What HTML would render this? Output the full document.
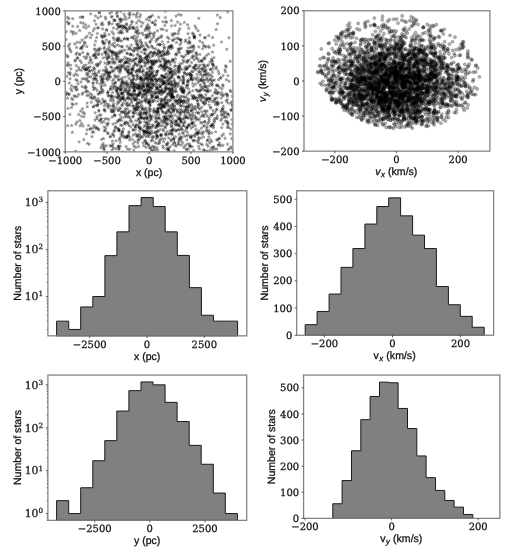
<!DOCTYPE html>
<html><head><meta charset="utf-8"><title>Star distributions</title>
<style>
html,body{margin:0;padding:0;background:#fff;}
svg{display:block;text-rendering:geometricPrecision}
.t{font-family:"DejaVu Serif","Liberation Serif",serif;font-size:10px;fill:#111;stroke:#111;stroke-width:.25px}
.l{font-family:"Liberation Sans","DejaVu Sans",sans-serif;font-size:10.55px;fill:#111;stroke:#111;stroke-width:.28px}
</style></head><body>
<svg width="509" height="550" viewBox="0 0 509 550">
<rect width="509" height="550" fill="#fff"/>
<g transform="translate(0,0.35)">
<marker id="ms" markerUnits="userSpaceOnUse" markerWidth="6" markerHeight="6" refX="0" refY="0" viewBox="-3 -3 6 6" overflow="visible"><path d="M0.00 -1.75L0.39 -0.54L1.66 -0.54L0.64 0.21L1.03 1.42L0.00 0.67L-1.03 1.42L-0.64 0.21L-1.66 -0.54L-0.39 -0.54Z" fill="#000" fill-opacity="0.34" stroke="#000" stroke-opacity="0.34" stroke-width="0.5"/></marker>
<marker id="mc" markerUnits="userSpaceOnUse" markerWidth="6" markerHeight="6" refX="0" refY="0" viewBox="-3 -3 6 6" overflow="visible"><circle r="1.6" fill="#000" fill-opacity="0.3" stroke="#000" stroke-opacity="0.3" stroke-width="0.6"/></marker>
<svg x="65.2" y="10.5" width="167.7" height="141" viewBox="65.2 10.5 167.7 141"><polyline points="86.4,133.6 212.6,60.6 112.4,140.8 141.1,101.2 149.7,34.1 118.5,96.1 89,62.5 183.7,100.3 170.2,68.5 198.7,107.9 117.6,11.7 131.3,95.8 150.4,32.4 190.3,74.4 94.2,48.8 215.3,104.3 139.2,93.9 195.6,108.9 77.1,121.7 145.8,28.5 174.3,106.4 149.4,101.4 189.7,117.6 192.2,146.5 108.2,103.9 96.5,75.6 86.9,95.1 178.7,14.1 188.6,124.6 122.3,50.2 95.5,40.9 165.3,87.5 167.9,142.2 147.1,68.3 212.9,68.3 148.9,83.3 150.1,90 159.6,140.5 216.5,117.8 156.1,84.6 156.6,60.6 173.6,110.7 166.3,88.1 178.1,143 178.4,72.1 182.3,69.1 115.9,86.1 167.3,54.4 78,83.4 165.8,116.5 94,87.6 133.8,77.9 157.8,108.2 76.2,65.2 113,143.6 185.6,69.5 99,48.1 183.8,111.7 88.1,91.5 110.6,76.8 101.8,36.1 178.3,38.6 103.2,90.6 144.7,53.1 229.4,148.4 114.9,68.7 171.4,20.2 142.7,114 120.3,108.8 68.9,18.2 191.7,71 126.4,67.9 153.3,37.2 103.3,57.7 214.4,121.8 148.1,60.7 175.2,71.8 195.1,140.3 201.3,80.3 167.9,102.7 150.3,87.2 136.4,43.4 118.1,147 107.9,61.5 170.1,71.9 141.8,94.3 146,136.2 203.2,97.1 140.3,58.7 66.2,31.4 147.4,117.4 190.1,65.4 162.7,79.1 133.1,55.1 148.6,79.6 171.7,107.7 189.9,51.4 221.5,109.9 157.4,70.6 122.6,28.7 115.1,46.6 152,55.9 207.6,139.9 167.4,80.7 155.7,149.6 165.3,17.2 154.9,24 178.9,141.5 100.5,91.6 133.3,116.2 99.3,93.5 145.8,107.6 141.4,59.2 81,81.7 166.5,62.9 124,88.9 205.9,100.6 116.8,40 172.5,144.2 121.6,136.2 211.8,85.1 190.3,145.6 161.5,68 86.6,56.5 163.7,50.5 182.8,80.5 181.5,48 197.9,58.8 112.4,80.5 128.4,135.8 155.4,93.7 105,42.8 111.8,71.2 170.8,46.3 156.9,52.6 121.1,98.1 119.4,45.6 205.9,46.7 150.7,16.4 149.4,26.9 197.2,54.4 211.4,147.6 213,110.1 172.3,74 150.9,86.2 161.7,98.6 218.9,138 167,83.9 183.2,82.7 151.9,150.3 217.6,139.8 171.1,139.2 188.7,100.8 98.8,110 146.2,49.7 145.7,93 102.6,98.9 194.5,35.5 163.8,106.2 125.5,83.1 163.9,91.9 210.3,78.7 163.4,55.6 107.9,92.6 127.1,46 118.9,130.1 187.8,80.8 175.1,25.1 137.2,74.3 227.6,11.5 166.5,122.3 196,56.3 171.8,71.3 121.8,125.2 226.3,66.4 95.1,127.1 97.1,100.9 133.1,87.1 119,130.7 127.1,31 125.1,100.1 155.8,78.4 169.8,93.8 78.7,114.2 113.5,100.8 204.2,64.8 96.7,37.2 104.8,33.1 167.3,50.6 113.5,27.8 162.5,111.4 111,109.3 141.2,88.9 231.8,138.4 135.6,94.1 131.7,94.3 98,93.7 156.8,87.6 134,75.7 193.7,123 208.7,35.2 182.9,56.6 190.5,136.4 178.2,68.3 114.3,84 110.5,50.5 161.9,80.7 205.7,102.4 108.9,119 178.2,49 162.3,41.6 100.7,16.1 165.6,127.3 105.4,70.1 154.1,61.3 117.8,40.2 188.8,98.6 151.6,78.5 135.5,98.8 162.2,125.3 176,82.5 211,125.4 192.4,116 126.7,24.5 219.7,142.8 80,60.3 184.5,72.8 192,107.8 198.6,105.1 178.9,124.8 92.3,131.9 140.7,121.5 145.8,37.5 185.2,41.1 192.5,109.7 129.1,125.3 105.5,71.2 103,69.9 159.1,37.3 123.3,102.6 207,90.7 76.2,103.5 91.5,70.3 129.3,98.7 148.6,29.9 147.2,36.9 147.2,125.3 169.9,100.5 102.4,85.1 164.7,118.1 163.6,69.6 122.2,46.3 143,85.4 127.1,97.9 216.9,108.9 85.3,37.6 73.1,33.8 135.5,127.2 121.4,20.6 133.9,89 187,66.4 76.6,70.6 113.5,88.8 142.8,58.6 96.8,118.2 170.6,107.7 168.7,147.9 119.9,61.5 70.1,78.5 228.4,127.3 175.4,121.2 173.1,70.1 156.6,81.7 152.9,101.5 192.3,123.2 152.5,15.1 123.6,19.1 186.6,149.8 156,40.9 117,59 110.7,66.6 208,89.1 118.3,80 172.2,96.6 218,103.6 181.3,128.4 173.6,74.3 118.3,128.3 94.6,96.6 118.3,110.2 138.4,114.2 170.8,112 201.2,79.3 172.3,116.1 114.4,20 115.1,20.1 208.2,98.1 109.2,57 169.4,133.8 155.6,89.5 177.5,116.3 188.5,105.5 143.2,69.9 150.1,108.8 164.5,60.5 92,136.3 118.9,129.4 77,52.7 153.5,70.5 188.1,33.3 112.6,61.9 120,50.8 199.1,94.6 131,79.5 77.7,75 105.2,73.6 103.7,102 105.3,85 185,66.9 156.6,71.6 83.3,23 127.9,104.9 99.8,92.1 96.5,57.5 82.5,108.5 138.8,61.5 180.3,112.8 194,67.1 135.2,83.6 178.4,118.3 178.6,144.5 163.7,44.6 166.6,134.8 199.9,54.1 130.8,126.6 112.9,70.1 109.5,72.3 193,71.4 152.4,46.7 101.4,80 196.2,27.9 116.7,90.6 132.1,22 108.6,74.1 171.6,133.1 77.6,26.2 121.1,32 154.2,146.5 95.4,105.1 156.7,39.1 112.4,145.6 100.9,147.5 135.9,147 152.6,63.6 177.7,111.9 149.6,101.4 159.1,66.4 68.1,62.4 196.6,112.2 139.6,127.4 224,116.9 156.7,125.5 119.8,59.8 216.7,84.8 136.1,109.2 87.9,54.1 220.6,77.4 103,79.6 196,53.2 205.5,66.7 98.3,101.7 172.1,33.8 159.7,51.5 173,96.8 204.8,86.1 158.4,59.4 114.9,115.6 148.7,102.5 225.5,120.7 97.9,98.4 157,111.2 107.2,72.9 75.8,123.8 137.2,57.8 147.4,28.6 158.7,16.9 226.3,100.7 104.9,118.7 97.2,90.1 65.4,54.2 82.9,52.1 178.4,129.6 173.7,96.9 186.4,148.5 135.2,126.2 195.5,65.1 179.7,28.5 98.2,128.6 221.1,94.1 163.2,112.2 187.5,81.9 212.5,123.9 107.5,132.6 149.3,124.1 114.7,114.6 109,21.8 165.7,133.4 169.2,77.9 218.3,144.8 152.2,87.4 113.9,111 148.2,145 109.6,63 133.3,26.9 206.4,130.2 198.8,46.6 173.7,139 141.6,67 161.1,103.2 138.7,85.8 156.6,143.3 148.4,99.3 177.9,123.4 137,65.3 139.6,89 100.2,83.4 145.1,65.7 122,132.3 139.6,133.6 141.4,129 205.1,90.3 162.7,121 168.4,48.1 164.2,106.2 121.9,105.1 111.8,67.2 192.7,90.4 136.7,105.7 70.1,49.5 163.7,120.4 118.6,32.4 150.1,105.5 127.5,53.4 134.1,94.5 145.1,112.3 94.7,68.5 152.4,146 185.9,109.1 71.6,85.4 90.2,128.5 141.6,77.1 193.4,140.6 168.4,80.2 70.9,51.3 155.8,115.6 191.2,119.2 208.3,64.3 93.3,106.2 138,140.1 180.2,67.7 69.3,82.7 179.8,119.1 166.6,61.3 133.4,65.4 114,107 128.5,95.9 93.6,131.7 227.2,94.6 101.2,103 133.2,129.5 122.2,77.5 133.8,38.3 157.6,135.4 117.7,101.8 142.2,105.9 202.8,68.3 139.7,82.7 117.2,55.2 163.9,76.5 86.2,87.4 99.5,115 112.6,105.8 164.1,117.7 179,125.1 160.4,139 170.5,116.8 189.2,59.8 160.8,107.2 110.2,136.6 116.1,54.7 210.3,90.6 219.5,138.5 76,79.2 227.2,99.4 168.4,75.2 149.7,57.9 154.2,62.1 103.2,42.8 144.3,78.6 167.5,61.8 213.1,113.9 196.9,134.2 137.6,102.7 211.6,60.2 170.5,112.8 90,66.5 97.7,63.5 104.2,109.2 86,79.3 152.3,83.3 128.2,112.4 154.5,78.9 185.8,54.7 162.7,88.9 218,85.2 147,118.8 207.3,140.2 131.3,37.1 166.8,117.3 151.3,60.7 212.5,83.7 121.7,40.6 160.2,103.6 162.8,51.2 134.2,97.4 168.8,109.2 81.7,123.1 130.8,98.4 172.6,91.8 193,126.2 191.4,104.2 180.5,105.7 135.3,125.9 209.6,98.3 139.9,68.2 107.6,48.6 125.4,69.1 190.8,47.1 199.1,71.6 189.5,73.3 128.2,93 220.9,111.2 126.8,136.4 195.2,106.3 151.6,95.5 145.2,131.7 151.5,72.1 220.2,17.2 219.7,87.2 195.2,117.7 183.9,118.7 173.8,138.8 131.8,86.6 122.8,151.5 154.8,52.3 74.1,86.9 141.4,137 149.8,53.2 104.2,48.3 125.4,110.3 185.2,130.6 141.7,44.1 156.1,111.4 201.1,98.6 123.7,27.1 98.8,129.5 172.5,134.8 67.3,93.5 183.4,100.6 137.8,47.3 133.1,105.5 143.9,81 177.4,101.1 190.7,73 135.5,40.9 227.5,143.9 212.7,113.7 155.6,132.1 150.2,109.9 104.9,62.8 124,26.2 176.1,130.4 83.8,44.7 158.9,92 209.1,117.5 137.6,33.2 183.7,125.8 152,61.5 201.4,127.9 101.4,76.6 139.6,86.5 171.6,71.5 123.4,86.4 114.3,61.1 136.8,96.7 140.4,61.3 122.3,79.8 168.6,118.5 191.1,77.8 188.2,81.1 185.1,145.2 209.2,119.7 89.1,143.9 147.8,85.1 162.1,58.2 77.4,57.4 111.4,16.8 165.6,63.7 204.3,125.1 121,67.4 127.8,71.1 170.7,90.7 180.8,136.8 150.6,74.4 120.7,32.7 90.6,93.3 88.8,95.1 186.2,106.3 166.4,119 189.1,66.2 198.2,142.4 216.8,102.8 150.6,51.8 172,97 155.5,75.1 110.8,86.5 146.2,143.2 211.5,115.1 158.4,104.8 204.7,79.7 144,108.7 172.2,92.2 134,60 119.9,40.2 141,86.9 160.9,135.3 153.6,85.6 147.6,45.9 198,132.8 182.9,122.8 134.9,28.4 194.5,36.9 140.3,85.6 146.7,129 214.8,148.8 128.4,97.7 84.5,113.4 162,75.2 143.9,133.2 149.1,27.7 144.1,126.5 156.2,121.1 175.9,101 148.9,88.7 158.5,117.6 157,79.4 165.2,81 140.4,41.3 173.6,109.5 158.3,53.8 180.1,44.3 144.6,131.6 157.2,136.3 158.7,84.4 208.9,121.7 103.7,82.4 188,111.1 142.6,136.5 217.4,115.5 150,76.8 99.1,70.6 172.8,35.3 132.8,68.5 118.7,53.2 180.4,39.3 122.2,82 172.2,89 208.6,75.5 88.7,81 137.2,30.6 176.4,121.2 231.9,119.3 197.5,106.5 132.5,95.6 222.5,108.4 137,103.7 171.6,44.9 102.4,92.3 210,150.1 164.1,67.1 127.1,135.9 99.3,12.2 171.2,99.7 186.3,117.2 179.8,118.5 150.8,116.1 66.6,92.1 184.9,121.2 165.1,53.5 187.9,117.7 118.1,97.9 95,119.8 167.6,79.6 167.8,83 85.1,69.4 137.7,53.7 174.5,65.9 158,125.8 216.4,68.4 111.3,95.3 112.3,116.7 144.7,117.9 86.4,90.2 200.7,72.6 156,61.8 162.5,54.3 177.6,94.7 120.6,85.3 181.1,14.8 197.1,131.9 194.4,98.3 180.9,105.5 142.3,82.4 146.5,77.6 182.2,90.9 127.4,108.7 207.5,123.2 150.1,66.6 118.1,121.1 160.2,52.4 145.4,77.6 179.9,39.3 168.5,47 170.7,81.3 116.6,107.8 221.8,102.3 127,38.2 208.7,73.4 133.7,86.1 160.3,122.1 112.2,58.1 127,102.3 122.6,32.2 177.1,96.5 175,38.5 147.5,76.4 140.9,111.4 139.6,92 157.4,54 108.8,95.6 150.6,116.8 146.5,88.3 127.9,62.2 126.5,23.3 222.7,84.4 124.4,38.4 172.6,96.2 217.5,23.4 154.2,110.6 200.9,86.2 86.4,69.2 95.5,53.1 134.7,90.7 142.9,109.6 148.8,136.4 232.6,105.1 151.5,39.2 165.3,62.9 110.7,88.7 168.3,115.3 90.3,128.8 219,73.4 128.9,72.8 179.5,65.7 91.9,34.6 218.6,79.4 182,96.3 156.5,127 77.2,89.4 116.4,56 227.4,122.7 123.9,66.5 181.2,88.7 165.8,102.9 176.4,91.2 129.7,89 89.4,32.8 213.4,127.4 196,117.2 135.7,63.6 182.6,105.2 184.9,117.1 183.2,133.3 178.3,86 194.8,115.3 157.1,121 212.7,101.4 161.5,90 112,31.5 127.6,113.3 189.5,106.8 149.3,107.7 204.5,57.3 213.9,100.2 230.8,109.3 167,131.1 163.5,80.8 123.3,96.8 178.2,33.5 142.1,60.7 98,17.6 187,139.6 65.7,94.3 143,22.8 90.2,60 162.1,106.9 180.5,23.9 197.9,118.6 216.9,85.4 183.4,125.2 165.9,103.3 191.7,114.8 180.2,100.8 221.2,97.7 179.4,52.3 159.7,92.5 100.4,48.5 169.2,87.9 225.5,65.5 125.5,90.7 76,89.4 150.3,127 130.2,48.4 154,147.5 126.1,103.7 157.8,96.4 106,54.1 227.5,126.8 143.4,130.3 178.4,76.2 146.9,122.7 142.4,83.8 133,82.8 177.2,111.1 94.2,54.7 111.3,111.3 127.4,92 208.8,85.5 139.7,55.8 161,100.5 204.3,71.3 118.9,129.4 202.6,70.3 112.5,51.1 224,112.5 227.9,75.3 163.7,105.5 134.6,108.4 193.7,150.2 227.9,113.6 210.7,125.9 191.3,110.5 115.3,96.5 201,94.5 143.4,90.7 144.2,117.7 135.4,58.6 179,139.4 195.4,125.5 195.5,83.9 139.6,48.1 210.6,139.6 124.7,137 146.9,132.4 101.3,35.3 168.5,93.2 150.9,62.1 200,89.9 133,59.6 150,42 127.3,58.8 109,34.1 195.2,133.7 160.1,44.6 121.4,93.6 117.7,16.5 158.4,50.2 109.7,72.8 147.9,63 148.6,75.8 71.6,98.1 88.6,125.2 140,138 155.9,96.9 98.6,72.1 178.6,50.9 218.1,93 212.4,95.4 146.5,122.3 163,29.1 68.2,65.1 157.3,112 198.3,97.8 160.5,81.8 143.1,142.5 183.8,90 191.9,57.3 108.6,57 171.7,61.4 208.8,136.9 214.2,120.2 203.6,131.7 191.7,51.8 207.6,91.1 192.4,118.4 193.3,96.8 212.7,63.4 160.6,61.1 179.4,137.8 166.2,119 160,80.1 127.9,39 141.1,103.4 104,100.9 147.5,62.1 189.1,92.6 185.8,39.7 191.8,79 151.4,45.7 135.1,141.3 176.2,124.9 121.5,65.7 123.4,93 191.6,79.3 158.3,123.7 169.3,53.3 162.3,138.6 191.2,127.9 128.5,49.1 148.5,56.5 177.6,21.7 118.4,145.6 155.3,82.8 148.1,90.8 161.9,106.1 73.9,75.2 152.7,79.5 182.6,118.6 108.2,133.2 95.5,15.8 158.1,123.5 141.7,79.4 187.4,131.9 113.5,147.7 110.7,100.4 172.5,84.8 189.7,146.1 200.2,84.5 155.5,20.4 169.2,46.1 119.6,96.1 218.7,144.7 210.4,69 81.6,116 198.1,30.4 122.5,66.2 179.8,77.5 176.9,109.8 140.6,92.4 109.3,41.2 101,86.4 183.7,77.6 113.9,19.9 187.9,42.9 138.5,94.2 129.7,63.8 196.6,58.2 109.8,13 148.2,60.9 155.7,92 187.3,143.8 121.6,120.1 150.6,133.3 188.4,135 197.8,68.3 83.1,92.4 132.5,74.9 164.3,98.9 181.9,91.1 215.3,98.6 179,70.5 75.5,86.9 188.3,47.7 117.1,24 184.9,100.6 158.1,111.4 131.9,60.9 135,62.6 113,123.7 167.1,77.1 171.3,140.5 182.3,87.2 223.2,110.7 152.5,72.6 91.3,102 121.3,117.2 202.6,42.3 147,55.5 200.2,64.8 163.6,141.2 164.2,47.5 148.9,120.7 193.5,46.2 101.3,79 145,125 149.3,101.4 190.8,137.1 122.7,83.6 146,72.7 77.3,80.4 162.5,92.9 83.2,112 227.9,122 89.5,70.9 141.6,42.3 147.4,59.2 76.6,47.2 147.8,123.1 123.1,98.4 86.9,78.3 165.8,112.4 164.5,65.5 106,52.4 82.2,86.3 122.4,104.5 169.7,78.9 181.9,136.9 120.4,30.5 139,118.8 181,120.5 206.5,55.1 127.4,148.9 161.4,55.4 109.7,76 175.3,90.1 154.5,132.3 146.4,19.2 230.7,91.2 141.5,61 103.7,43.5 164.9,54.1 164.8,82.6 101.3,118.8 127.4,105.4 114,39 151.2,149.1 213.6,125.7 128.6,60.8 120.8,99.2 127.3,97.8 166.4,143.9 165.1,90.3 147.1,117.7 211.6,141.1 128,71.3 204,67 167.9,148.5 113.8,131 160.1,125.4 88.2,73.8 145.3,94.8 188.7,88.6 161.2,36.9 127,58.5 150,115.2 78.6,94.1 181.3,101.7 181.3,55.6 117.9,40.2 185.8,68.8 132.9,27.9 131.5,100.4 166.3,112 137.9,142.7 179.8,66.2 183.8,147.2 190.5,79.1 123.6,81.4 217.5,104.7 171.5,93.7 202.4,77.4 118.3,109.8 165.8,113.5 138,87.9 115.1,82.2 82.5,46.4 147.6,79.5 147.9,24.1 202,68.7 79.1,141.6 129,131.3 187.2,68.2 198.4,112.2 135,107.7 128.8,85.9 171.4,126.2 232.5,109 171.9,125.9 121.1,88.9 120.5,79.1 76.6,86.9 157.4,30.4 138.4,88.5 164.3,82.7 166.6,30.2 205.6,111.1 157.2,97.1 136.6,70.8 187.5,107.4 205,121.4 142.1,32.6 136.3,14.5 168.3,99.7 130.9,84.6 138.4,48.1 179.2,133.9 181.3,144.7 177.5,37.8 118.7,67.4 86,58.2 159.1,117.6 135.9,112.7 163.5,130.7 193.6,95.3 144.2,134.5 143.4,74.3 114.7,130.4 174.1,78.9 190.1,43 172.3,93.9 80.8,22.2 164.9,25.1 67.6,125.3 220.7,77.7 160.9,91.2 118.2,56.8 196.7,79.3 203.7,82.8 146.5,27 149.2,131.1 157.7,136.8 145.3,97.8 218.4,102.9 102.8,24.6 130.1,14.7 170.4,95.7 134.6,88.7 146.3,100.4 128.5,90.4 226.8,121.3 207.2,110.8 152.2,73.2 152.6,80.6 146.3,98.4 195.2,69.4 129.6,93.8 156.6,72.4 92.7,98.3 114.2,42.6 112.6,92.3 120.6,124.8 160.9,119.3 189.7,91.7 137.7,136.6 155.7,97.1 138.5,109.8 215.1,112 165.3,68.4 74.8,43.7 224,114 170.4,92.2 125.9,121.8 131.4,83.9 146.5,143.1 88.7,26 137.4,87.7 187.8,126.4 215.4,102 193.4,33.8 156.9,87.4 163.9,83 157.6,109.9 157.4,130.8 106.2,145.5 203.9,103.4 165.2,99.7 173.1,111.7 171.2,68.7 140.6,78.2 152.2,137.9 92.1,95 167.3,52.1 74.2,95.4 146.8,74.1 140.3,71.7 126.9,83.1 135.9,107.1 102.7,77.5 127.5,84.5 210.5,79.4 125.8,85.3 66.1,39.3 90.9,76.5 206,74.5 212.7,124.2 160.1,85.9 172.7,129.5 172.3,105.7 149.6,134.3 189.3,37.8 107.3,125 134.2,47.7 75,60.7 107.6,92.6 175.5,58.4 171.3,88.8 171.5,121.4 191.2,74.8 151.9,132.6 182.6,142.2 94.2,78.8 144.9,53.2 104.9,51.6 130.6,94.1 210.1,61.6 156.6,131.6 134.2,90.3 176.5,42.3 184.6,115.2 157.8,149.9 139.8,93 161.3,101.1 157.7,87.9 138.4,20.2 225.7,111.8 172.5,40 174,97.9 212.2,76.4 102.7,74.1 211.7,132.6 143.8,49.6 221.7,127.3 178.4,68.9 133.7,50.4 168.2,123.6 171.6,84.2 86.5,69.4 139.8,61.7 122.2,92.7 120.9,18.8 130.3,120.7 93.1,83.3 167.2,60.8 193,112.7 94.7,76.4 198.5,113 148,127 121.2,89.4 138.6,146.2 119.1,148.3 175.8,145.9 154.8,100.1 210.4,107.8 130,110.6 67.2,21.4 108.3,53.7 170.7,94.5 85.6,24.4 119.5,19.1 179.7,69 90.4,97.3 194.1,67 170.4,46 127.2,66 152.5,95.4 131.2,73 135.9,71.7 155.3,24.6 150.2,87.8 108.5,75.1 102.9,41.4 147.2,85.2 210.5,69.3 200.7,122.4 120.4,100.5 139.6,69.1 96.5,128.2 183.9,92 145.8,42.8 140.7,127.9 116.5,90.2 126.4,116.5 162,110.1 196.4,97.7 199.5,132.9 114.8,52.3 186.7,127.4 159.4,142.3 212.7,149.7 141.4,87.2 169.3,88.7 125,123.6 159.1,78.6 152.3,136.4 147,92.5 107.6,79.8 182.7,91.2 131.7,72.8 214.9,98.5 102.4,81.5 173.9,128.5 175.6,124.5 174.4,142.2 76,33 201.8,111.6 161.2,65.2 177.6,84 157.4,95.8 211.7,81 221.9,135.5 67.5,17 118.2,88.3 146.8,86.3 223.2,85.7 181.1,39.7 164.9,138.3 144.6,48.8 107.5,105.7 159,143.2 191.6,46.4 145.2,99.6 136.3,135.3 143.2,70.8 215.8,92.4 168.5,106 123.3,59.3 95.8,88.1 135.7,31.2 112.2,44.2 135.2,86.2 218.5,92.1 187.3,60.3 165.6,96.8 173.8,72.6 101.6,88.3 145.3,140.3 161.5,135.2 158.3,89.4 180.2,138.4 168.4,150 186.6,117.3 110.2,89 109.2,49.8 112.9,59.1 137.2,76.8 118.8,94.8 126.3,137.1 123.5,128.5 120.9,87.4 172.6,129.8 151.1,79.5 187.2,68.2 209.3,132.4 194,59.2 156.3,133.9 197.2,100.4 80.4,48.1 196.2,52.2 187.4,99.7 168.9,38.1 92.6,127.9 217,118.3 123.3,82.9 183.9,96.1 68.4,72.5 124.5,99.2 118.3,37.8 123.6,64.2 153,99.7 170.5,64.6 226,93.3 137.3,40.9 125.2,16.4 135.4,129.8 70,74.2 82.9,16.9 101.6,122.4 128.3,116.3 187.8,73.5 205.2,74.3 137.2,27 171.8,45.9 174.8,85.7 143.7,130.5 165,119.5 126.8,81 180.3,79.9 143.9,83.3 156.2,54.8 166.2,123.9 161.1,108.5 120.9,134.1 151.1,94 127.8,38.6 129.5,26.6 149.3,71 121,86 175.1,114.8 172.8,103.8 112.2,149.4 171.4,115.2 109.3,42 187.9,84.5 183,60 153.6,52.9 195.7,68.7 201.9,95.9 174.8,84.9 68.4,23.5 160.2,104.5 163.4,147.7 191.6,62.3 108,72.8 186.8,50.7 170.4,120.1 96,78.6 113.5,103.6 206.7,144 192.5,33 149.9,74.8 134.3,86.8 80,42 201,89.4 147.1,36.2 164.6,77.1 69.7,43.7 167.4,36.9 142,107.9 119.1,38.2 101.6,139.1 163.1,128.9 136.2,32.3 137.6,135.8 139.7,76.4 123.1,95.5 124.6,62.8 154.5,32.4 89.2,70.4 102,145.1 145.4,109.4 160.4,87 205.7,71.7 172.5,109.2 116,140.5 87.2,102.8 100.9,114.6 79.1,69.4 108,91.3 152.1,67.1 134,84 194.2,108.3 194.9,136.1 193,139.8 165.4,77.3 129.2,103.7 174.1,33.3 141.5,51.8 143.7,145.5 172.1,76.4 102.3,22.5 77.3,96.3 168.2,41.7 205.2,37.1 87.9,81.3 113.1,111.3 228.2,149.5 105.9,56.5 138.2,106.5 114.9,54.4 90.6,37.3 141.8,79.4 137.9,64.5 157.5,44.3 165.4,134.3 185.6,73.5 217.1,97.6 149.5,20.2 143.5,94.9 153.6,48.1 147.1,34.7 107.2,58.7 129,66.5 187.6,61.2 105.4,130.2 191,110.2 88.4,68 181.6,111.2 180.6,119.9 143.4,46 152.1,88.2 142.4,97.2 231.3,110.3 132.8,27.7 170.7,48.4 204.7,83.2 146.4,112.3 200.8,143.4 117.9,120.5 117,28.7 95.7,99.6 209.4,47.1 93.4,78.7 164.7,102 173,59.2 130.3,54 217.4,101.5 202.7,74.9 207,98.6 202.7,86.9 85.8,64.7 104.3,150 155.2,121.8 67.8,56.6 155.7,48.5 197.8,103.6 171.5,89.3 153.8,64.2 155.9,92.6 146.8,73.7 230.8,128.7 153.3,125.3 150.6,66.5 132.6,37 147.3,85 129.3,116.8 112,96.4 95.5,55.2 158.4,112 136.5,104.1 138.1,44.5 82.4,16.7 115.3,76.5 207.5,79.2 171.7,129.7 147.5,90.8 174.3,105.5 83.8,65.5 91.2,59.7 207.3,151 104.5,105.4 150.2,83.2 121.5,81.7 213.4,64.8 79.7,30.2 198.8,66.3 209.3,101.1 226.4,79.4 230.9,146.5 132.9,75.7 106.7,69 195.5,97.7 140.8,112.9 154,35.1 105.7,18.6 71.4,107.3 120,114.6 157.2,125 138.2,102.1 145.9,101.8 111.5,145.8 202.3,89 144.2,90.3 120.5,19 204.5,89.5 125.8,88.3 161.8,91.4 170.6,72 200,34.7 211,74.7 112.1,55.1 136.3,38.7 143.4,87.2 152.8,22.3 160.7,90.4 72,103.2 230.7,103 188,109.2 155.6,79.7 96,24 150.8,117.8 151.4,79.3 144.5,112.6 158.4,130.9 171.9,131.1 105.3,100.8 77.7,57.9 169.2,91.6 141.2,25.9 147.1,117.8 113,98.8 187.9,52.7 180.8,89.3 157.2,88 179,48.4 191.3,77.7 136.2,79.6 157.1,74.3 150.4,147.3 128.8,69.4 232,101.4 165.8,21.5 84.1,56.6 173.6,123.2 163,145.8 186.2,115.6 216.7,93.4 160.1,129.3 198.7,139 210.7,83.4 138.5,107.7 179.9,102.5 67.9,108.1 172.5,94.9 102.1,53.9 81.5,62.3 203.6,45.3 193.2,79.3 122.7,98.2 208,145.9 153.8,84.5 131.9,21.1 69.3,93.4 153.4,150.1 115.4,126.1 187.9,112.5 199.3,119.5 108.2,95.3 176.6,103.4 145.4,78.7 228.9,114.9 117.1,92.4 133.4,97.6 147,112.6 186.4,85.4 106.1,103.1 214.4,118.6 158.2,80 126.6,70.3 100.2,120.6 166.7,148.7 147,59.7 147.7,127.6 137,84.8 142.4,96.2 133.3,79.5 84.1,116.6 137.7,78.2 97.7,104.1 149,68.3 157,80.2 169.3,72.9 138.9,127.1 147.1,77.5 175.7,65.6 186.5,126.8 192.8,105.9 142.2,71.8 187,74.7 204.6,121.2 85.1,69.1 151.2,140.6 206.7,127.9 144.8,49.3 145.9,147 85.7,86 105.1,110.8 214.4,79.7 70.5,64.8 180.9,86.4 118.4,70.4 137,84.1 146.8,56.5 167.5,105 175.5,130.6 199.4,148.7 73.3,31.7 118.2,92.9 184.4,22.1 94.3,28.2 70.1,72.4 206.9,98 137.5,94.1 175.2,69.3 143.3,85.7 140.4,56.9 110.7,95.7 120.5,90.2 163.8,82.9 99.5,100.7 120,89 161.6,78.4 207.3,115.8 170.4,105.1 125.7,62.2 117.2,44.5 162,104.3 156.6,61.2 128.9,14 127.2,137.3 221.4,114.2 167.6,88.2 137.6,36.3 133.8,99.2 125.5,114 83.8,139.2 225,116.4 174.1,150.3 197.6,77.3 139.7,47.4 173.8,138.1 70.9,68.5 171.9,81.3 128.4,83.5 146.6,142.2 172.5,59.4 86.8,72.7 178.5,83 180.3,98.6 169.1,82.6 122.8,97.9 152,68 87.1,129.5 171.9,86.4 135.8,120.3 153.5,75.6 164.9,98.4 97.4,33.1 154,136.4 168.1,51.1 152.7,85 108.6,55.5 164.7,77 134,146 187.4,85.1 123.6,112.2 136.9,98.5 145.9,83.5 189.7,50.8 156.3,138.2 92.7,73.7 221.7,118.5 92,62.6 143.8,79.7 113.2,37.2 187.7,24.4 174.8,61.9 169.8,71.9 203.5,125.9 116.2,67.5 142.3,117.8 196.3,119.7 156,117.4 186.6,87.4 172.9,118.9 146.4,56.4 133.3,111.9 137.1,75.2 109.1,22.8 165.8,89.8 185.8,101.9 125.3,108.5 82.7,67.5 207.8,91 150.5,67.4 145.1,62.4 149.7,92.7 67.4,97.9 186.5,106.9 117.2,15.4 152.1,101.2 147.5,130.6 106.4,50.9 93.1,86.1 144.3,61.5 210.6,98.9 120.8,26 123.4,111.6 155.8,111 124.4,38.6 212.5,37.2 172.9,90 161.7,75.4 102.6,28.7 137.6,54.8 180.8,126.8 140.4,114.5 85.3,42.7 152.7,96 144.8,100.5 130.1,94.5 193,121.6 206,86 120.3,141.9 124.2,136.4 192.7,98.4 110.8,98.3 196.2,89.4 185.4,110.4 182.9,76.5 183.8,102.6 150.6,61.4 202.2,122.4 171.1,97.5 153.1,91.7 215.6,131.6 225,69.4 125.5,61.6 194.2,36.9 157.9,108.9 140.2,65.4 126.3,19 112.5,109.1 198.1,82.1 106.1,78.5 185.5,112.6 131.4,44.8 218.3,70.9 228.9,80.9 208.9,133.6 87.4,143.1 127.6,94 136.2,48.5 157.6,101.1 183.7,91.7 139.9,114.2 155,141.9 94.4,97.3 156.9,113.7 149.4,84.5 158.2,50.3 184.1,80.1 136.6,16.7 171.5,25.6 177.1,119.9 147.2,132.5 174.7,100.9 159.8,78.2 184.6,106.8 168.3,70.3 148.3,55.6 176.1,15.7 125.4,82.9 222.8,123.7 110.9,51.3 138,69.5 199.2,71.3 201.9,132.2 225.5,71.6 194,36.2 136.5,22.8 178.8,103.4 112.1,16.1 166.2,67.6 186.6,97.1 199.9,40.8 133.5,66.9 200,108.7 99.4,63.5 111.7,11.6 139.4,62.1 212.6,71.9 183.2,88.1 146.2,75.3 178.7,125.5 81.4,69.9 188.2,106.3 221.5,41.6 140.6,56.2 97,82.6 187.3,94.1 172.1,75.8 207.4,131.2 87.1,36 204.8,86.2 163,105.9 116.9,97 135.9,48.2 147,95.5 170.5,77.8 116.9,67.6 116.2,88.1 154.9,75.8 180,63.4 199,130.3 68.8,94.5 151.6,52.2 166.8,144.9 157.9,38.7 104.9,52.2 188.9,41.3 146.9,83.2 117.6,67.4 155.6,127.5 160.2,44.4 165.2,121.7 133,124.3 153.8,75.6 120.3,21.7 203.3,115.1 167.8,94.6 150.8,70.5 146.8,72.2 207,87.2 193,56.1 140.3,39.6 94.7,44.7 164.6,91.2 201.7,106.9 148,81.7 164.9,116.2 170.1,116.1 159.5,90.5 168.5,149.8 139,71.1 122.1,25.3 80.7,110.9 159.1,104.6 135.2,110.4 98.9,50.4 87.7,53.2 168.9,60.9 149.2,132.8 100.6,61.5 160,86.4 202,80.7 225,138 200.8,137.8 164.2,53.2 184.2,61.2 150.2,16.7 136.2,124.2 117.4,52.4 149.7,104.1 188.2,79.6 145.3,93.1 223,108.4 103.8,147.8 121.3,61.3 163.2,66 129.5,47.2 102,89.8 116.1,57.9 180.2,96 180,117.9 184.5,122.9 181.1,42 132.8,116.3 167.1,102.7 97,80.5 71.2,31.2 128.3,75.1 70.9,88.4 148.3,85.3 162.8,83.7 110,145.3 132.1,69.1 131.8,102.3 105.7,67 116.5,12.9 142.2,89 145,57.6 138.6,85.3 116.7,76.7 212.2,63.7 121.7,51.8 207.2,99.8 197.6,100.5 84.7,87.4 93.7,67.3 151.1,68.4 106.4,39.8 79.9,120.3 95.2,112.4 203.8,79.9 101.1,118.8 144.6,90.6 157,147.3 135.6,86.7 150,99.7 121,26.2 114.4,114.6 149.1,74 118.9,149.1 129.9,73.3 129.9,12.2 103.1,143.2 209,130.2 214.4,92.3 106.7,118.5 162.6,81.3 137.9,30 191.3,135.5 183.1,92.3 100.3,76.1 148.4,53.9 140.2,78.6 147.9,92.1 183.3,79 139.4,70.4 202.8,114.7 147.6,135.1 188.7,28 213,80.3 208.3,45.9 118.9,146.2 87.3,106.5 112.3,52.7 140.9,116.5 119,24.1 135.6,99.8 141.7,45.9 122.8,134.5 171.8,121.7 189.6,115.3 86.2,27.7 182.1,63.1 137.7,124.9 167.6,66.9 145.9,131.1 72.7,26 135.7,100 96.2,51.1 120.6,64.9 208.1,80.9 161.1,28.8 221.7,92.1 152.5,83.8 210.8,106.9 166.6,73.2 160.5,65.3 129.9,136.9 107.3,71 102.6,40.9 172.6,47.4 167.2,93.7 206.7,77.7 116.9,90.4 128.8,112 81.5,47 189.6,125.5 168.8,133.5 207,73 144.7,131.1 151.5,118.7 198.5,146.1 170,130.6 132,49.6 97.2,105.6 209.6,98 118.1,94.9 119.8,52.4 188.5,148.9 131.9,82.5 127.5,122.3 145.5,57.6 213.7,146.5 158.9,56.7 117.3,103.9 129,77.9 164.3,63.2 136.7,108.4 142.3,100.9 98.3,49.5 95.8,49.1 159.6,61 104.3,75.3 175.3,33.5 180.1,129.5 196.7,132.6 99.5,12.5 93.5,106.6 138.7,139.4 178.1,77.2 176.5,54.7 228.9,37.4 217.4,14.8 205.7,113.6 164.9,107.2 193.3,85.8 139.7,122.6 133.3,82.9 198.4,91.1 75.4,59.7 220.7,145.5 131.8,121.3 191,137.1 163.6,104.2 109.3,43.8 181.5,100.9 204.6,46 141,80.3 163.4,116.1 127.9,72.3 204.7,37.6 152.2,97.3 197.9,133.1 124.9,49.8 162.7,104.5 114.3,109.5 121.8,46.5 209.7,142.7 148.3,102.3 152.9,33.8 191.7,95.2 118.6,26.8 120.3,146 138.4,120.3 75.5,150.9 175.4,121 181.3,121.6 107.1,77.2 165,105.8 96.8,127.1 204,116.1 144.9,140.5 125.6,27.6 133.3,105.9 148.9,101.9 202.4,134 173.4,96.4 119.7,72.5 114.5,86.5 106.9,123.5 193.3,55.6 178.3,100.1 152.5,140.1 127.9,135.1 149.2,132.6 172.5,84 192.9,50.3 204.1,97.3 144.4,75.5 188.3,53.5 97.4,27.6 164.9,69.9 211,114.5 151.1,73.6 72.7,18.4 169.2,83.6 143.8,112.8 183.2,75.8 204.4,110.6 133,112.2 135.1,64.1 121.2,111.7 106.4,29.5 163.4,122.4 118.5,78.9 139.8,112.6 137.4,12.5 124.2,25.9 181.3,100.7 131,24.7 148.8,144.2 190.2,74.7 145.8,113.7 84.1,78.3 130.2,105.1 130.1,60 230.3,133.6 161.6,35.5 220.7,120.1 119.5,139.5 174.4,80.8 149.7,111.5 143.3,34.4 223,95.4 178.7,30.8 165.5,67.3 197,74 189.7,41.6 161,64.4 216.7,139.6 193.4,135.3 158.8,98.3 120.9,11.1 155.9,97.2 196.3,64.6 101.9,82.1 77.2,42 175.8,73.8 80.1,16.9 142.1,108.4 140.4,135.8 154.1,93.6 159.1,93.2 176,84.8 146.5,44.8 112.5,96.1 209,104.7 187.6,51.5 179.9,115.2 149.5,36.6 172.8,104 147.1,25.9 86.8,46.2 198.2,104 129.9,28 232.3,123.7 112.2,51.9 158.3,118.1 150.1,41.2 84,67.5 147.3,78.5 79.5,54.3 216.3,109.6 164.3,82.9 182.5,129.3 161.7,99.4 80.2,125.4 180.4,122 150.6,90.6 222.1,114.9 94.6,20.4 93.1,30.6 159.2,114.6 227.8,102.7 151.3,97.6 139.8,16.8 122.2,131.1 136.4,109.6 205.3,99.1 154.6,60.1 86.5,68 119.1,101.9 152.4,60.7 82.2,93.9 128.8,28.5 71.9,90.4 150.4,119.9 139.3,99.6 119.1,61.3 150.3,81.5 108.3,76.3 202.3,144.5 173.2,40 98.8,53.5 75.9,53.9 188.8,124.3 140.9,117.9 78.8,67.1 80,53.8 114.9,127.9 108.9,78.5 179.6,109.2 177.6,129.6 166.6,88.3 135.5,133.5 144.4,90.5 160.7,51.4 124.2,116.9 149.9,78.6 138.1,134.7 174.5,142.2 200.3,68.6 126.4,90 181.7,109.3 137.3,87.5 139.7,122.5 171.6,95 167.9,119.5 212.7,146.9 203.4,64.5 128.8,132.9 182.6,132.1 90.1,57.1 145,30 122,93.1 106.7,71.8 205,58.2 113.6,105.3 98.9,110.8 166.1,85.2 201.5,95.4 149,90.2 180,48.6 163,66.4 149.3,87.2 152.3,63.5 193.1,67.6 97.9,104.5 143.5,93.7 130.9,81.2 180,100.1 139.3,102.7 158.1,108.4 137.2,43.8 171.2,77 205,69.9 167.8,110.2 149.1,33.7 130.5,118.5 145.9,58.8 129.7,149 199,95.8 103.7,121.5 126.1,146.2 170,68.4 169.3,88.6 165.5,74.3 133.9,84.9 163.2,83.5 86.7,74.6 82.2,78.6 93.5,69.9 133.8,150 127.9,123.5 140.5,116.3 164.6,47.5 159.4,43.9 128.2,92.8 178.2,67 216.1,29.2 164.1,65.9 117.2,24.1 216.8,148.8 154.2,52 105.7,128 148.3,86.4 167.8,67 73,104.5 159.7,52.7 184,56.7 149.2,75.4 175.8,100.5 163.4,100.6 115.4,62.8 188.9,51.8 119.6,138 140.6,78 120.1,69.8 184.7,135.9 132.5,139.1 132.2,93.6 141.3,77.6 201,116.2 171.5,95.6 152.3,127 72.8,99.1 134.5,35.8 198.6,137.2 170.4,83.6 205.9,151.1 138.9,125.9 194.6,37.7 95.8,78.7 113.8,45.7 198,140.7 84.2,41.9 143.8,118.5 91.7,97.6 95.1,72.5 126.9,52.8 127.7,87.1 140.8,21.6 156.4,86.6 67.5,55.6 157.4,125.1 223.4,133.8 207.1,126.1 158.6,123.4 227.3,94.3 134.6,90.1 183.7,111.4 184.1,72.2 138.5,118.5 130.3,86.9 145.5,89.2 133.2,70.1 117,38.5 107.4,63.9 213.4,65.7 193.9,48 153.5,53.5 165.2,59.1 206,69.6 177.2,100 165.5,87 133.1,129.7 192.7,83 112.9,86.5 175.5,54 202.6,48.4 198.8,17.9 145.3,63.7 153.4,110.2 211.7,125.2 169.6,84.5 156.8,135.3 124.9,56.9 129.7,139.7 103.1,78.7 171.3,123.5 113.5,33.4 150.1,104 88.7,76.4 213.9,57.2 190,145.6 104.1,126.8 179.6,98.4 139.9,128.1 161.3,85 197.2,90.4 228.2,124.2 212.4,51.8 189.6,104.5 203.5,149.4 94.6,73.8 139.3,32.9 227.4,96.1 95.3,57.5 118.4,65.7 109.8,105.4 163.1,91.7 169.7,151.2 143.5,85.4 200.4,74.7 124.3,91.1 118.4,75.9 149.5,147.6 165.4,10.9 104.3,47 131.8,68.3 112.6,83.6 121.4,59.4 150,127 164.8,126.6 118.6,87.4 154.3,63.1 82.9,125.7 135.1,99.3 195.8,129 120.4,68.5 137.8,50.6 189.5,143.6 169,110 144.1,131.2 105.4,16.7 162.8,21.4 171,73.9 116.8,127.6 181.1,139.9 148.4,71.7 213.6,44.9 121.7,97.2 152.3,22.3 146.6,132.1 205.9,94.5 109.3,46.9 191.9,122.8 200.4,96.9 157.9,70.8 119,98.6 113.3,134.4 230.2,90.1 183.2,89.6 94.3,55.1 208.6,53.8 94,125.4 133.7,109 203.1,102.2 124,13.9 184.2,90.2 138.8,95.1 97.9,65 160.9,134.4 232.3,95.8 223.6,94.6 104.3,130.5 165.7,65 174.8,91.2 160.5,55.5 126.2,114.9 157.5,91.9 192.2,75.4 223.1,75.2 177.9,102.7 152.3,81.1 129.5,90.7 137,95.4 226.7,117.1 183.4,83 75.6,73.7 69.9,114.1 182.9,102.3 180.8,113.4 203.3,101.7 160.8,108.2 121.3,92.9 72.3,132 109,24.1 173.5,87.4 215.4,89.2 66.8,76 85.9,91.6 166.6,21.8 133.1,134.8 168.5,111.7 152.6,115.9 125,68.2 168.8,137.8 147.3,110.1 83.6,26.8 140.1,106 119.3,119.3 139.5,91.8 169.7,62.5 180.9,88.5 204.8,103.9 176,87.4 175.3,83.6 154.1,108.3 195,77.8 170.1,146.5 67,64.7 119.8,119.5 139,87.5 133.8,113.3 129.8,58.4 179.2,118.1 98.6,27.5 115.8,122.6 104.4,35.9 149.3,128.4 108.4,122.9 168.9,60.8 125.2,76.8 216.5,90.6 149.9,77.9 204.3,150.1 133.5,14.1 110,61.3 176.6,123.8 125.2,112.2 200.4,79.3 153.3,76.9 125,122.2 130.5,53.9 173.3,60.3 198.8,80.4 113.5,62.8 95.9,64.4 96.5,74.4 173.7,108.9 127.2,30.5 133.1,79.4 195.3,65.4 179.8,111.9 90.7,13.6 112.1,23.6 167.5,52.9 176.7,53.1 161.3,94.3 222,88.4 187.6,102.9 112.1,111.2 126.3,61.9 133.1,91.8 115.6,82.3 223,144.9 152.9,55.3 166.6,96.4 135.4,58.7 137.6,45.8 104,145.4 119.9,107.4 153.9,112.4 151.8,91.8 143.7,86.3 128.2,69.5 98.2,54.4 163.3,76.4 131.1,72.2 174.8,82.4 152.5,124.7 129.2,17.4 193.5,45.3 134.1,50.7 185.7,109.8 145.9,90.4 178.6,65.9 108.3,107.2 125.7,27.8 230.2,61 68.4,45.5 171.7,133.3 163.6,58.5 211.6,58.6 164.6,60.9 102.4,37.2 175.6,108.7 69.2,23 201.3,60.4 146,34.9 115.8,53 178.8,76.7 71.6,125.2 232.1,148 117.4,88.2 223.3,105.9 159.1,107.7 93.2,55.1 192.8,97.6 148.1,89.7 120.8,70.4 191,75.9 139.7,130.6 115.9,148.5 140.5,46.6 113.8,78.9 148.7,47.1 202.3,61.2 113.9,136 186.8,128.2 133.2,143.2 104.4,109.8 93,82.3 227.4,113.8 103.7,35.7 232.4,105.1 138.2,94.9 141.2,117.1 139.5,59.3 101.1,24 198.9,61.2 186.6,135.6 184.7,96.9 203.2,58.9 69.3,47.9 167,124.5 120,26.4 108.6,62.5 110,72.1 189.7,113.4 152.1,76.5 126.4,61.9 121.3,84 124.4,123.8 136.8,70.6 106.7,29.9 148.4,17.3 177.5,70.9 126.5,28.4 216.2,66.8 113.6,71 151.7,130.4 161.9,75.7 112.4,133.7 167.4,100.6 131.2,54.2 203.5,136.8 186.9,62.1 139.8,84.9 175.5,136.3 204.3,74.7 191.6,123.2 141.9,66.2 122.7,131.2 114.8,74.9 199.6,91.1 99.3,120 170,91 226.8,48.9 75.1,96.1 167.5,143.6 103.5,138.2 144.7,121.5 175.5,144.6 103.8,148 88,67.3 131.6,69.7 160.8,134.3 132.1,81.2 105.3,35.7 183.3,82.7 97.4,65.6 82.2,39.7 155.7,118.4 146.5,115.4 121.8,111.5 97,116.3 163.8,82.2 118.5,26.4 113.2,52.5 195,25.7 81.6,48.2 194.9,96.4 107.2,58 149.5,114.3 137.7,106.6 165.8,103.1 140.5,14.5 201,100.3 93.7,89.3 134.6,93.9 207.5,65.5 179.5,71.6 152.2,64.7 147.2,126.8 201,60.4 110.3,136.2" fill="none" stroke="none" marker-start="url(#ms)" marker-mid="url(#ms)" marker-end="url(#ms)"/></svg>
<rect x="65.2" y="10.5" width="167.7" height="141" fill="none" stroke="#808080" stroke-width="1.25"/>
<line x1="65.2" y1="151.5" x2="65.2" y2="153.6" stroke="#3a3a3a" stroke-width="0.8"/>
<text x="65.2" y="163.2" text-anchor="middle" class="t">−1000</text>
<line x1="107.1" y1="151.5" x2="107.1" y2="153.6" stroke="#3a3a3a" stroke-width="0.8"/>
<text x="107.1" y="163.2" text-anchor="middle" class="t">−500</text>
<line x1="149.1" y1="151.5" x2="149.1" y2="153.6" stroke="#3a3a3a" stroke-width="0.8"/>
<text x="149.1" y="163.2" text-anchor="middle" class="t">0</text>
<line x1="191" y1="151.5" x2="191" y2="153.6" stroke="#3a3a3a" stroke-width="0.8"/>
<text x="191" y="163.2" text-anchor="middle" class="t">500</text>
<line x1="232.9" y1="151.5" x2="232.9" y2="153.6" stroke="#3a3a3a" stroke-width="0.8"/>
<text x="232.9" y="163.2" text-anchor="middle" class="t">1000</text>
<line x1="63.1" y1="151.5" x2="65.2" y2="151.5" stroke="#3a3a3a" stroke-width="0.8"/>
<text x="60.8" y="155.2" text-anchor="end" class="t">−1000</text>
<line x1="63.1" y1="116.2" x2="65.2" y2="116.2" stroke="#3a3a3a" stroke-width="0.8"/>
<text x="60.8" y="119.9" text-anchor="end" class="t">−500</text>
<line x1="63.1" y1="81" x2="65.2" y2="81" stroke="#3a3a3a" stroke-width="0.8"/>
<text x="60.8" y="84.7" text-anchor="end" class="t">0</text>
<line x1="63.1" y1="45.8" x2="65.2" y2="45.8" stroke="#3a3a3a" stroke-width="0.8"/>
<text x="60.8" y="49.4" text-anchor="end" class="t">500</text>
<line x1="63.1" y1="10.5" x2="65.2" y2="10.5" stroke="#3a3a3a" stroke-width="0.8"/>
<text x="60.8" y="14.2" text-anchor="end" class="t">1000</text>
<text x="149.1" y="175.5" text-anchor="middle" class="l">x (pc)</text>
<text transform="translate(22,80.8) rotate(-90)" text-anchor="middle" class="l">y (pc)</text>
<polyline points="410.4,99.8 418.8,112.8 403.4,116.3 403.4,100.1 404,96.4 430.2,101.7 442.6,64.9 395.5,78.5 434,71.9 368.1,77.8 366.1,84.9 379.8,82 420.2,81 373.1,56.3 382,91.8 410.4,75.6 371.8,84.6 475.8,65.6 426.7,54.7 420.1,111.7 402.9,83 387.9,110.1 366.1,76.5 402.3,109.5 358.7,80.9 406.1,74.9 341.2,102.9 385,73.8 384.3,58.6 383.5,25.9 380,84 390.4,87.6 382.4,68.8 361.4,107.5 403.1,79.5 388.2,83 410.6,64.8 340.3,94.4 405.1,83.5 390.7,89.3 387.6,106.4 376.6,65.7 357.4,85.7 438.6,111.2 394.4,95.1 373.9,93.2 417.2,60.1 350.5,98 450.6,100.9 363.8,83.9 434.4,109.6 441.3,116.5 439.7,61.2 381.3,75.8 403,101.7 357.4,68.9 416.6,78.3 376.9,95 372.6,75.4 425.7,95.8 462.1,76.8 425.6,80 363,106.9 430.3,62.4 418.4,90.1 383.5,76.3 422,52.3 459.2,67.3 418.5,87.3 351.9,74.2 389.4,30.7 417.3,110.2 368.2,56.6 392.3,90.1 403.2,53.9 420.1,100.7 392.7,79.8 419,72.3 320.3,58.5 395.8,109.8 410.2,82.6 376.3,62.6 398.6,119.7 363.3,104.5 399.2,48.5 353.9,74 406.4,76.6 361.6,104.2 369.3,70.9 338,58.9 341.6,93.8 428.3,46.3 409.3,100.1 403.5,95 419.7,111.4 348.1,77.8 375.7,98.7 402.6,112.3 396.5,45.8 400.1,102.6 403.1,61.3 410.4,109.3 417.2,98.1 369.3,85.6 401.4,47.9 380.9,97.4 433.7,94.6 415.8,56.4 428.6,78.1 387.8,80.1 343.4,96.2 436.2,93.7 384.1,48.4 394.3,70.5 413.7,77.4 407.6,108 395.4,63.2 411.6,90.8 380.1,95.6 455.2,104.3 394.6,56.1 381.5,95 379.8,90.9 403.9,78.2 433.1,61.6 395.5,111.1 402.6,106.5 435.1,61.5 365.3,106 417.7,82.5 432.4,66.4 345,64.4 420,86.9 395.7,66.8 390.7,86.6 433.8,25.8 448.2,78.7 454.9,36.8 391.6,108.1 416.2,48.6 347.8,25.1 370.7,62.8 417.1,97.6 356.6,78.9 353.9,97.6 412.1,75.6 401.2,50 376.5,96.2 380.8,98.2 351.4,65.8 398.5,74.8 443.4,92.1 455.5,69.6 400.1,93.8 355,76.6 443.4,104.8 401.2,75.4 388.2,55.1 396.7,76.6 414.3,63.3 383.3,53.9 419,58.6 398.7,102 381.5,90.2 379,74.4 437.6,117.5 415.3,42.9 422.1,40.1 445.4,84 351.2,53.1 382.8,79.3 395,62.2 392.7,89.6 389.1,73.6 358,58.4 451.7,97.3 356.5,78.2 422.5,87.8 439.9,57.5 402.2,15.5 372.4,80 399.1,63.1 400.9,54.7 381.5,104.8 378.2,86.6 329.7,91.4 346,82.6 364,57 374.8,85.9 349.7,92.7 422.9,92.2 353.9,104.4 375.9,89.7 347.3,43.3 406.9,75.7 392,45.9 370.8,86.9 411.5,73.3 430.8,42.9 376.5,84.6 359.1,98.7 360.6,95 403.2,87.6 443.8,57 382.3,70.6 473.4,71.8 395.3,83.6 381.1,41.2 354.8,69.8 411.1,46.4 403.9,84.6 429.6,104.1 430.2,93.6 376.2,90.2 392.7,96.2 396.4,100.6 405.6,100.5 347.4,104.6 367,89.9 373.8,81.3 381.9,63.8 441.4,30.2 393.1,68.1 393.2,84.1 408.2,117.5 394.9,65 372.3,39.5 361.6,119.5 378.1,40.2 353.4,94.7 366.9,83.9 417.1,109.7 350.4,57.6 434.7,108.2 328.5,58.6 405.9,75.7 397.4,101.3 368.1,63.9 396.8,90.9 448.8,111.6 326.2,75.2 410.5,97 396.1,48.1 402.2,102.7 395.8,82.1 390.9,82.3 387.7,96.6 452.5,81.9 419,46.5 378,68.2 389.6,114.6 418,100.9 381.5,78.8 455.4,96 453,85.2 402.8,80.2 415.7,120.5 467.3,97.4 433.6,87.6 431.5,71.9 371.7,86.6 375.7,99.5 440.2,103 388.4,99.6 451.9,82.3 393.9,77.9 412.3,56.4 432.9,95.8 386.2,96.5 402.2,83.6 377.2,54.1 460.1,91.2 383,99.2 424.6,68.6 378.4,55.9 411.2,85.4 444.2,45.7 386.3,82.5 417.7,67.9 430.6,28.2 373.8,105.3 398.7,110.1 331.4,77.9 404,109.7 351,72.3 410.2,87.9 433.7,115 361.7,93.8 331.5,61.7 389.3,90.7 384.6,94.5 399.1,81.2 343.8,96.8 406.1,88.8 448.4,74.4 402.4,76.9 342.4,80.4 416.7,94.9 366.7,95.6 431.6,46.5 417.7,62.2 377.1,35.8 403.2,88.7 373,88.7 372.1,50 398.5,118.7 373.9,101.7 435.5,67.7 403,102 390.5,45.8 418.7,93.9 365.8,45.9 395.1,77.4 445.4,71.8 422.9,87.8 386.6,75.6 340.2,79.2 389.2,62.8 380.9,98.5 378.6,88.3 386.7,93.5 349.8,67.9 401.8,65.3 357.9,67.2 417.9,52.4 436.2,92.3 399,89.4 371,108 404.1,91.6 345.2,85.3 377.4,65.2 370.6,64.4 381.2,69 367.9,76.1 418.8,77.9 422,72.8 428,109.2 368.3,99.3 420.1,97.7 450.7,86.7 389.1,70.1 420.8,85.6 416.3,120.2 425.1,100.5 385.2,79.3 423.7,59.4 424.6,69 431.2,79.5 403,44.3 349.4,54.1 382.7,56.1 366,94.4 346.7,87.8 436.1,86.8 390.7,86.8 371.4,71.3 431,67.6 454.7,75.6 405.8,81.3 440.9,65.8 384.6,101.6 425,32.3 412.4,105.6 392.1,59.2 364.5,72.3 401.3,46.5 362.8,90.2 409.8,45.4 378.2,103.1 335,77.8 402.4,111.6 428.1,84 412.2,78.6 388.2,80.5 385.5,46.1 369.9,92.9 417,94.7 385.6,72.8 374.7,86.5 410.9,60.4 372.8,100.3 391.4,67.4 375.3,62.3 438.2,57.5 370.5,73.3 400.8,66.1 355.7,81.7 430.5,35.6 349.2,112.2 409.4,122 390.4,91.8 414.1,49.7 357,101.1 335.4,90 424,71.2 424.2,99.3 375.4,104.8 375,66.2 385.9,79.2 349.7,74 394.3,46.9 410.3,48.7 375.4,70.7 401.1,112 380.1,85.1 383.7,74 367.6,63.2 394.1,114.4 371.5,49.3 371.8,47.5 457.2,78.9 448.9,67.7 457.7,76.3 344.4,72.3 395.5,93.9 413.6,65.4 409.5,80 363.2,93.7 417.9,75.5 351.4,60.7 358.2,56.6 356.7,99.6 391.5,31.1 427.6,86.8 380.4,78.3 380.9,77.8 382.7,44.3 354.8,67.7 391.8,93.4 414.8,104.2 426.8,62.2 392,73 344.3,110.1 418.7,79.1 341,34.4 422.7,120.3 410.1,73.3 388,111.5 370.1,105.4 403,80.8 456.2,112.3 410.2,83.7 417.9,35.1 438.1,100.7 458.2,67.8 343.7,98.9 403.1,58.8 385.4,69.9 404.2,82.9 433.7,112.7 420.9,76.3 351.5,100 364.5,52.1 407.9,82.3 379.9,82.4 371.5,66.9 395.8,82 378,84.6 374.6,83 431.8,116.4 443.3,68 400.6,75.6 427.4,90.1 434.3,76.8 371.7,101.6 409.1,54 396.6,108.5 355.8,76.8 435.9,75.1 360.4,73.1 408.9,71 400.3,90.3 400.5,47.3 428.1,110.4 451.6,78.8 375.8,115.6 433.6,75.3 360.9,76.9 428.7,64.3 410.5,94.2 436.3,66.6 405.3,92.6 386,80.7 457.5,89.2 427.1,78.9 345.6,68 345.6,69 392.6,87.2 409.7,58.8 338.9,99.7 389.1,98.5 395.4,99.8 378.8,69.8 425,76.2 332.3,87.5 378.8,61.2 415.9,48.4 417.1,82.7 364.3,58.3 380.5,100 409.9,82.1 352.7,33.5 386.1,56.4 408.2,73.7 413.2,58.2 402.2,97.9 414.3,65.6 412.1,40.2 382.6,104.8 405.9,101.4 413.3,103.6 420,106.6 397.7,119.5 381.5,71.5 411,105.4 379.6,46.1 371.4,100.4 401.2,80.1 398.9,41.4 421.1,103.2 349.9,73.7 381.2,76 430.8,59.5 407.1,80.4 405.7,85.8 427.4,119.3 411.7,37.5 396.6,71.9 443.2,80.7 403.6,72.7 413.8,103.3 429.2,39.6 456.8,65.3 376.2,73.8 394.8,62.8 381.6,48.8 435.1,52.7 399.8,114.4 417.6,112.1 368,71.2 427.7,91.5 403.6,57.3 393.2,91.8 415,55.7 369.5,68.8 423.4,87.8 435.5,55.9 341.8,89.7 419.1,81.7 387,49.4 436.5,76.4 414.7,38.9 425.3,78.9 393.5,110.6 413,88.7 389.9,76.8 416.3,88.4 416.2,82.7 397.5,104.7 417.5,104.6 443,47.7 395.3,103.7 404.2,69.6 406.4,100.9 404.1,118.1 464.2,109.9 384,52.3 370.3,99.7 396,56.7 406.2,21.8 427.9,76.5 384.7,82.3 402.5,76.7 411.3,114.8 425.1,108.8 464.8,82 359.9,83.7 381.7,77.9 367.1,108.7 393.3,108 399,102.9 385.6,72.5 379.9,59.6 411.9,56.4 415.6,79.8 402.7,64 421.9,74.4 375.6,82 414.9,72.9 402.1,66.4 362.4,89.2 385.7,95.4 394,82.8 353.8,101 424.3,71.7 420.2,49.4 385.1,98.6 431.7,74.3 409.5,100.9 409.9,72.1 357.9,68.2 419.2,50.2 361.4,98.7 414.3,103.9 414,47.1 417.1,122.6 375.8,37.7 363.1,75.6 403.2,101.1 331.9,92.8 440.6,67.6 345.6,70.1 415.4,32.2 404.5,58.7 412.3,127.9 408.1,77.6 376.7,79.4 397.9,73.9 394.4,50.2 398.6,69.4 430.3,67 395.7,54.6 335.8,101.4 429.6,87.7 383.3,63.2 447.9,66.1 379.1,83.6 405,74.2 428.7,49.6 387.5,49.4 419.9,118.6 406.4,119.9 403.9,85 412.7,53 335.8,102.2 359.2,98.3 388.2,116.5 421.5,88.5 335.2,61.6 339.5,72.2 333.5,92.2 434.5,57.4 443.1,63.2 390.6,89.2 399.1,104.2 408.2,68.8 388.6,106.4 400.2,99.9 383.8,74.8 368.5,101.1 429.7,100.8 410.7,117.1 405.5,87.1 380.3,59 375.5,76.8 452,84.6 435.4,74.9 372.3,79.8 373.4,94.4 435.4,87 427.7,80.4 326.3,90.4 405.9,67.9 397.2,83.6 427.9,90.2 409.7,64.9 354.7,51.7 425.3,109.3 391.1,67 344.2,87.4 355.4,84.5 386.2,66.1 394.5,35.9 406.2,109.2 411.4,103.7 382.7,108.5 385.8,59.1 398,64.5 349.2,34.8 395.2,95.8 388.4,66 416.6,75.9 381,103.5 394.5,88.1 433.1,99.6 336.8,100.4 394,70.1 360.2,108.2 396.2,86.6 408.6,58.7 383.3,102.1 342.1,32.6 402.3,81.9 346.1,63.5 414.4,117.8 379.2,67.1 396.8,99.8 391.9,97 427.2,78.3 417.9,63.6 398.3,70.8 377.6,78.3 387.2,105.5 361.3,102.1 385.8,112 467.6,95.3 410.8,58.6 399.5,75.4 444.6,93.3 406.9,67.6 396.8,80.4 370.7,77.7 379.4,100.1 382.2,47.6 409.6,91.9 407.1,124.1 333.1,57.6 326.4,89.3 340.1,79 390.1,58.2 395.6,106.6 407.1,76.6 352.8,32.6 386.2,86.6 393.5,87.7 343.4,105.7 385,63.3 443.1,118.9 372.1,90.3 391.2,99.5 369,78.3 431.9,100.7 381.7,25.7 406.6,92.5 418,99.4 359.3,91.4 435.9,98.9 394.7,114.3 421.8,94.1 442.4,79.9 444.9,87.3 388.1,91.3 409.2,96.1 424.1,66.3 429.2,90.4 447,103.9 349.7,92.9 465.1,71.6 395.1,81.3 452.7,69.3 394.5,114.7 365,88.1 361.3,81.3 380.8,30.5 350.6,63.9 379.1,83.8 434.4,111.2 403,75.6 435.2,69.8 420.5,90.2 370.3,84.4 385.9,107.7 363,115 464.9,102.4 397.7,62.3 381,97.1 334.9,52.4 369.6,71.6 387.8,53.6 415,89.3 454.3,101.3 374.6,51.4 394.4,87.4 321.7,70.9 402.9,86.7 397.8,85.6 422.8,109.3 398.3,105.6 407.2,97.3 378.8,81.5 359.4,86 450,35 402.9,85.8 356.9,74.4 326.4,63.7 377.7,92 387.6,84.8 418.6,116.1 346.4,87.3 418,100 402.7,98.3 378.3,101.9 381,63.9 437.4,79.9 400.3,102.9 394.5,92.6 417.1,100 456.8,96.8 425.5,80.7 442.1,82.8 375,102.3 411,59.6 340.8,89.1 370.2,83.7 383,98.1 424.7,93.5 338.6,51.5 396.6,87.6 377.9,114.5 388,48.8 402.7,40.7 465.3,84.4 395.6,69.5 355.6,93.3 431.6,47.2 358.6,80.5 405.4,76.7 357.6,57.6 413.8,108.5 394.6,62.1 375.1,64.2 332,82.2 340.2,101.3 392.7,95.5 402.7,54.8 399.6,77.8 387,99.7 390.7,77.1 434.4,68.7 367.6,48.5 374.4,80.6 388.6,48.9 360.5,110.4 346.1,61.3 392.7,112.7 393.5,108.1 373.1,112.8 369,104.6 382.4,63 383.4,90.5 430.3,74 363.8,59.6 354.7,89.9 400.4,111.4 396.8,102 403.3,64.4 457.1,77 393.3,83.5 416.6,75.4 396.3,87.7 388.4,68 372.6,86.6 431.5,60.4 379.5,53.1 430.1,101.4 403.7,70.6 433.9,66.6 456.6,104.5 357.4,78.1 439.3,65.8 422.9,64.3 351.9,71.6 461.2,43.8 363.4,69.4 431.4,63.6 417.4,103.7 360.7,72.8 393.3,87.4 353.7,104.8 360.7,70.5 395.2,79.3 387.9,40 414.1,72.6 402.5,108.7 395,76.5 403.6,111.2 406,67.8 370.6,25.2 339.2,92 417.9,52.9 449.5,84.8 427.4,64.3 421.9,101.8 364.4,77.8 406.2,94.4 351.6,79.4 405,85.5 413.4,119.6 380.5,65.9 388.9,70.2 446.6,65.8 359.8,95.1 402.5,53.2 375.2,63.8 363,113.1 435.8,64.3 390.7,69.8 422.9,27.1 416,106.6 332.3,99.1 415.2,92.5 332,100.1 421.4,52 390.8,75.8 441.8,113.7 408.1,92.9 369.8,99.1 367.7,93.8 431.5,97.8 352.8,88.2 360.5,81 340.2,99.7 395.4,72.8 408.3,78.5 397.6,103 423.5,65.7 414.1,65.7 341.2,103.2 414.8,92 338.2,71 405.8,55.2 357.5,61.6 462.2,97.8 369.1,106.3 427,92 383.7,100.5 321.2,69.4 384.3,114.5 426.7,85 372.6,83.6 408.2,61 358.8,68.2 383.3,108.4 409.2,98.5 397.6,107.3 374.5,86.5 352.8,62.2 374.5,78.8 353.4,84.4 383.5,78.2 407.2,85 391.5,94.1 362.7,38.7 416.5,89.7 396.3,101.2 434.1,83.2 344.3,105.7 382.7,93 386.7,74.5 421.1,100.7 441.4,57.3 384.2,104.2 468,104.2 413.3,50.1 383.1,80.2 369.1,88.1 375,25.3 425.2,63.8 399.4,92.3 358.7,82.4 419,110.1 414.7,53.2 437,69.1 434.1,124.5 390,54.2 379.8,100.2 372.3,74.9 374.9,123.4 438.5,72.9 432,87 387,73.2 365.2,107 386.1,106.4 430.3,52.2 369.1,77.7 371.7,113.1 435.6,88.8 411.1,118.3 401.5,109.2 413.7,102 408,122.9 403,103 402,85.2 399.7,102.6 437.6,119.7 422,100.4 408.4,87.1 418,82.9 433.3,83.2 413.8,118.1 414.4,96.8 431.6,72.3 387,108.8 381.9,90 356.5,65.8 420.9,95.5 372.7,86.9 408.9,76.4 395.4,70.3 371,65.3 432.5,122.6 356.4,97.8 371.1,58.4 393.7,53.3 382.9,88.1 336.1,86.9 363.2,66.9 400.2,71 432.6,74.3 361,117.6 396.9,118.5 400.2,67.5 429.9,25.8 430.7,87.7 354,51 438.4,59.6 353.5,85 451.9,75.5 427.9,85.9 433,39.5 412,99.4 384,100.3 414,102.6 419.5,74.8 333.8,86.7 367.1,103.3 375.5,89.8 358.7,92.4 433.2,77.6 376.6,83.6 404.7,68.4 410.8,109 406.8,90.9 362.4,68.9 420.1,110.1 375.4,124.6 389.3,101.4 422,79.1 401.4,66.5 401.3,85.5 380.3,111.7 352.1,103.2 432.7,53.6 370.4,64 400.7,77 394.9,101.8 429.7,77.8 378.5,76.4 435.8,52.6 411.1,90.1 379.1,87 372.1,64.6 409.5,76.9 392.8,83.8 424.2,80.4 411,116.8 378.3,91.9 391.3,47.5 384.7,57.6 360.9,101.3 382.3,100.2 381.4,67.8 367.3,85.4 420.3,80.2 396.8,97 357.5,87.6 341.7,69.2 424.2,93.6 396,73 418,110 371.9,75 414.6,106.3 408.3,50.1 352.2,61 414.2,98.4 426.5,57.2 393.4,85.9 408.9,76.2 388.9,92.2 406.8,75.7 424.9,61 401.4,71.4 424.8,86.2 401.5,63.1 433.8,67.5 361.9,78.6 409.6,62 457.6,83.6 372.1,109.6 364.6,83 346.4,79.7 368.1,87.4 413.5,80.9 419.6,97.9 446.6,71.6 363.4,95.5 415.6,111.2 445.7,83.3 473.9,94.3 437.7,121 418.7,75 364,60.9 379.8,53 419.7,63.8 393.2,62.4 459.9,92.3 368.7,44.7 386.8,97.6 443.3,33.6 369.4,81.7 430.8,60.3 430.6,73.8 415.4,78.8 364,110.2 358,92.8 400.7,97.7 380.9,75.7 381,107.4 365.4,80.4 369.4,113.1 456.8,75.6 403.1,77.4 392.5,95.3 438,96.9 365.6,69.6 364.5,73.5 343.2,77.7 434.2,69.6 384.6,93.8 435.2,94.5 395.1,77.7 375.8,110.9 361.5,97.5 360.1,107.9 445.6,88.5 383.1,118 380.6,53.7 404.5,42.3 341.1,86.6 410.6,73.3 332.6,71.3 353.6,91.1 371.6,99.5 419.3,52.6 396.5,85.2 426.3,125.2 457.7,71 409.1,93.7 399.1,67.2 406.5,103.5 328.3,68.2 367.8,66.9 435.4,62.8 392.4,86.4 400.2,94.4 434.4,53 356.9,89.5 380.3,46.3 374.7,56 417.1,72.8 437.7,81.1 367.3,58.1 460.9,105.3 403.6,56.7 360.4,105.6 391.6,99.3 370.3,111.4 384.3,105.1 364.6,52.8 391.8,71.9 382.9,109.1 369.6,68.1 372.7,34.5 398.2,96.5 426.9,91.9 418.2,70.9 465.3,102.2 379.2,111.9 413.7,87.1 420.7,78.6 373.4,93.6 400.8,67.8 389.9,43.3 331.5,90.7 380,60.2 414.5,82.1 384.8,78.9 377.6,96 350.7,37.6 388.9,53.2 376.8,63.4 412.9,97.6 404.8,107.7 429.1,84.2 386.4,100.9 384.5,87.6 398.8,36.4 358.5,73.8 349.4,22.8 392.6,99.8 385,91.4 405.3,70.8 366.3,109.2 391,102.4 373.7,89 415.3,40.1 374.4,115.2 404.5,63.9 416.8,120.3 371.7,87.8 358.7,97.2 365.5,59.7 457.2,81 365.6,83.7 428.5,112.6 388.6,107.7 417.4,70.7 444.5,84 417.9,90.5 381.3,95.2 393.3,83.1 417.8,88.4 367.4,46 404.4,93.9 364.2,70.1 343.4,59.3 436.3,74.2 327.4,61.2 436.6,70 374.2,42 377,80.6 436,76 379.7,102.2 385.6,65.6 384.7,75.3 376.7,92.5 384.7,76 375.4,86 420.7,80 379.8,57.4 416.2,96.1 413,112.4 356.9,105.1 369.9,52.6 388.2,111.8 363.6,71.9 407.7,100.3 399.3,108.2 401.3,83.1 383.5,54.5 445.1,106.4 427.7,87.7 384,106.6 415.2,74.4 418.9,73.6 427.7,95.1 409.4,71.8 441.6,80 436.5,83 328.4,53 371.6,76.5 412.3,77.9 429.1,58.6 442.9,97.7 367.8,111.6 344,92.1 344.6,59.1 328.8,84.1 420.1,105.5 380.8,91.7 395.8,75.4 375.2,88.8 350.7,84.5 409.4,120.6 360.7,64.8 332.1,48.3 402.3,91.5 447.6,64.6 405.3,77.9 377.3,77.2 413.9,58.3 357.3,68 427.2,62.9 400.9,78.3 404.5,87.3 431.5,52.1 447.8,49 417.7,96.3 366.2,103.6 416.7,36.4 382.9,110.5 404.1,118.8 388.8,106.1 447.1,87.2 356.4,89.8 442.2,64.5 360.5,77.2 336.5,82 396.5,52.6 420.6,85.7 383.7,92.3 376,71.3 412.3,39.5 396.6,56.6 398.8,94.7 398.4,89.5 374.3,86.7 365.7,56.3 407.7,105.5 382.6,64.4 394.3,48.8 385.1,71.9 372.1,90.7 396.1,90.9 384.2,82.3 408.2,101.2 425.1,56.2 407.5,108.4 426.9,90.9 395.2,93.8 416.2,84.3 397.1,106.1 413.6,83.3 398.8,39.8 328.3,43.1 461.8,85.3 416.9,47.5 344.3,62.6 350.6,94 444.8,95.1 385.6,104.2 408.3,60.9 383.7,124.7 421.4,77.6 377,68.5 396.2,78.1 436.1,64.2 335.9,102.5 362.3,49.3 387.1,80.7 431.7,45.9 341.4,100.5 446.7,112.5 381.9,85.3 361.2,88.9 330.1,87.9 426.8,84.9 411.1,81.7 436.3,24.2 361.9,79.3 400.8,80.7 358.3,102.4 351,80.5 393.8,90.2 407.3,80.2 374.1,23.9 350,97.2 433.7,112.4 467.7,66.3 338.1,40.2 384.9,109 411.3,103.9 477.2,88.6 401.3,121.9 396,44.3 355.2,86.9 402.8,41.4 358.4,69.8 465.1,82.9 447.5,66.3 357.7,105 351.6,101.2 453.7,102.7 380.8,104.8 362.6,96.6 408.6,77.1 420.2,120.9 433.1,82.1 425.1,59.8 438.1,111.9 378,120 403.1,63.2 428.3,96.7 439.3,57.9 430.2,109 377.2,94 440.1,107.2 339.5,76.9 386.8,56 343.4,70.4 357,28.6 421.6,44.9 391,104.2 377.9,88.3 441.1,59 430.2,78.5 350.1,94.4 406.1,104.7 407.1,104.9 430.4,44 448.5,117.3 379.2,97.1 390.3,71.2 451.1,63.9 379,56.3 434,77 423.4,26.7 394.1,60.8 437.6,82.7 414.5,74.4 390.6,106.7 417.3,112.7 354,64.9 397.6,83.5 362.3,81.7 443.4,54.9 376.8,89 378,90.8 421.5,93.2 456.2,103.2 442.2,101.8 445.9,80.2 352.4,80.1 386,73.2 475.7,71.6 404.1,115.2 401.2,67.6 396.9,72.1 394.3,73.4 448.4,86.3 366.9,121.4 398.6,105 347.1,49.2 416.9,120.6 390.8,93.4 396.7,43.5 377,87.7 355.6,65.4 448.3,77.8 443.2,60.8 354.5,93.5 341.1,34.4 384.5,97.2 432.3,75.3 439.6,82.9 424.3,83.5 453.4,94.6 434.1,73.4 396.6,68.9 463,79 372.5,93 433.6,37.2 385.3,101.1 408.9,66.5 446.4,96.8 459.5,55.1 426.9,109.6 416,66 364.2,79.6 386.2,54.3 374.3,102.3 385.1,111.4 381.3,88.4 441.5,67.5 416.9,81.4 393.5,92.3 376.7,70.7 339.9,51.3 369.2,43.4 448.1,73.9 391.1,92.6 401.6,108.1 396.1,104.5 410.2,97.2 387.6,69.5 357.7,79.4 386.6,79.1 374.8,69.4 413.5,71.4 431.7,102.5 372.2,94.2 396.3,76.2 389.3,73 439.8,90.6 439.3,37 397.9,104.6 425.1,48.9 419.2,71.9 416.4,117.6 419.4,53 379.4,70 395.2,62.1 429.7,112.1 404.4,117.4 420.3,79.2 360.7,86.5 353.4,88.4 409.2,68.8 455.1,95.1 434.9,100.5 390.3,102.6 399.4,67.4 425.7,71.4 410.3,116.5 370.9,48.7 362.9,84.1 348.7,99.4 369.7,88.4 412.9,100.3 416.6,88.9 381.8,46 331.5,60.5 428.4,109.1 448,88.3 428.8,94.6 444.3,29 368.6,120.3 440.9,87.3 414.4,82.8 412.7,54.4 389.9,68.5 394.6,101.4 382.4,80.3 404.1,83.5 414.7,23.5 402.5,114.4 398.4,53 393,53.1 365.2,112.7 372.8,84.6 396.9,106.2 413.1,110.8 463.4,81.6 421.1,45.9 389.5,107.7 382.8,98.8 427.5,100.3 417,103.7 427.3,89.2 447.9,105.7 372.7,83.3 389.7,103.6 426.3,75.3 421.6,59.4 395.2,111.8 411.9,76.2 405.9,68 376.9,109.1 349.1,77.5 382.6,102.2 394.6,55.8 435.8,87.2 358.5,82.1 395.5,67.5 373.7,84.2 380.1,91.4 383.4,109.3 356.2,98.1 436.1,86.3 419.5,93.7 342.6,31.5 383.1,95.5 416.8,58.3 438.6,74 436.1,77.8 422.9,77.7 400.3,91.1 350.2,47.1 452.4,105.6 385.3,75.1 384.5,65.8 389.5,78.7 415.1,97.3 420.3,74.6 333.3,64.4 408.6,54.1 404.2,94.3 383.3,106.4 395,96 380.6,53.2 377.2,71 356,103 338,99 368.7,96.6 398.7,89.6 388.6,95.8 373.3,57.5 442.4,103.1 346.8,65.7 345.1,73.8 378.1,71.8 393.9,86.4 361.7,66.3 424.7,60.2 388.3,119.4 382.2,19.5 387,82.6 389.7,74.3 398.9,83.2 385.8,114.5 371.8,102.6 404.1,119.1 377.5,94.8 388.3,98.2 402.2,105 450,86.4 388.5,94.4 405.5,56.9 409.8,20.3 458.4,64 377.5,73.4 350.1,96.3 441,89.1 418,66.8 362.2,88.4 390.6,67.9 385.4,66.3 403.2,95.5 380.1,44.2 446.7,83.5 453.8,61.9 381.5,63.3 352.2,83.2 440.3,71.5 397,74.1 393.8,81.1 360.9,40.4 434.9,70.8 371,98.1 447.9,50.6 360.8,99.2 393.2,94.8 372.1,67.1 357.8,68.2 365,63 375.2,72.7 419.2,56.5 403,85.4 388.3,81.9 369.2,66 390.5,84.7 351.1,113.2 411.9,76.3 451,96.5 381.2,109.6 374.1,97 428.8,90.4 379.6,81 365.2,90.4 443.9,67.4 423,76.2 446.8,89 381.4,88.1 454.3,53.4 460.5,96.8 409.8,111.1 427.6,75.9 383.9,65.2 365.6,25.5 392.8,67 367.2,69 401.5,94.5 396.9,77.7 367.4,119.3 397.2,79.5 376.2,82.5 420.4,49.6 361.8,58.8 420.7,81.3 418.8,65.4 433.3,101.6 361.1,80.4 427,90.9 443.4,77.1 428.6,34.3 405.5,48.3 360.8,83.8 422.2,92.3 386.3,74.5 371.7,100.2 368.7,85.1 405.2,79.9 399.5,82.2 341.5,78.2 417.3,86.2 410.9,53 369.8,82.3 409.7,90.1 439.5,56 391.9,95.6 383.6,88.1 361.8,119.6 395,59.1 387.8,69.9 429,82.1 408.2,114.5 399.5,103.9 439.6,84.4 372.7,106.8 400.6,94.8 414.6,100.3 387.8,84.4 422.5,123.7 459.3,83.3 394.7,72.9 414.5,117.4 384.8,85.9 441.1,98.3 365.9,61.4 402.2,46.6 414.3,72.8 333.5,74.7 380.3,118.4 345.5,106.8 391.7,68.7 402.6,66.2 395.6,81.4 421.9,85.3 374.4,75.7 359.5,55.7 417.4,78.5 385.6,101.2 433.4,70.4 369.6,93.2 348.9,79.9 423.3,52.8 395.6,67.8 382.4,80 404.5,77.8 411.1,41.6 422.5,97.4 403.3,98.4 387.2,112.8 368.2,112.5 383,64.3 412.4,88.6 360.6,44.6 416,113.3 407.5,80.5 399.7,82.8 375.1,60.7 399.8,47.9 372.5,55 386.8,55.9 422.1,82.7 383.3,67 426.3,54.7 445.9,50.5 375.3,88.3 362.9,98.6 407.9,95.6 404.8,58.7 416.2,88 350.9,73.9 353.8,94.5 345.3,56 381,102.5 351.5,63 394.1,75.5 361,74 467.9,93.6 394.5,39.9 408.9,89.6 427.1,54.5 441.5,99.8 384.2,87.8 378.1,101.5 409.3,68.1 374.5,117.3 407.4,66.4 359.7,54 392.5,100.9 408.2,106.6 406.1,79.8 431.2,79.2 350.2,69.3 357.9,104.8 451.8,87.9 421.6,104.2 359.3,54.8 447.8,68.1 390.8,86.4 378.5,100.5 356.8,101.9 359.6,71.2 451.3,63.1 399,97.5 427.3,121.8 396.7,18.7 434.7,110.5 394,102.1 430.6,71.3 354.7,94.1 431.9,62 363.6,99 435.2,97.4 366.1,79.2 389.7,92.1 385.4,57.1 387.3,101.7 375.4,82.3 370.8,117.7 378.3,63.9 398.5,76.4 423.7,80.7 405.5,57.3 390.5,68.6 374.5,100 367.2,82.4 382.9,107.1 449.4,83.1 376.3,69.5 371,109.1 421.3,98.9 366.1,46.1 372.2,64.6 397.7,103.8 409.9,82.7 404.3,71.2 394.6,51.8 352.7,114.5 328.7,72.6 402.6,82.5 430.5,36.7 420.6,101.5 407.9,73.6 346.7,70 398,22.7 372.4,76.8 403,84.6 418,24.1 365.2,78 413.7,78.6 358.9,94.3 388.5,63.2 420.2,94 421.7,51.4 371,77.4 414.3,66.9 434.6,60.3 401.8,53.8 393.6,72.4 409.7,53.4 413.6,79 410.4,57.5 408.6,101 413.7,53.3 406.1,109.6 353.3,78 384.7,82.9 384.4,87.3 463.4,107.3 398.3,75 331.5,64.8 340.4,44.7 467.9,50.7 431.2,77.4 408.7,111.8 370.9,96.8 352.2,105.9 428.3,80.3 414.6,93.3 456,79.1 376.8,73.5 441.7,62.6 419.1,79.7 391.6,71.6 420.9,76.4 362.7,104.7 449.4,87.1 376.5,71.1 394.8,124.1 411.4,71.4 364,39.6 425.5,107.9 384.2,109.5 401.6,73.5 368.9,86.9 408.6,64.9 371.6,46.4 404.9,60.4 460.9,68.4 432.3,61.8 413.3,68.4 401.1,94 378.9,45.6 358.5,95 420.6,97.9 442.4,88.4 417.8,111 406.8,53.8 411.5,95.1 444,103.3 383.1,78.7 421.2,70.5 414,81.8 418.4,50.1 445.8,93.7 346.1,57.1 390.3,105 424,50.3 360.7,39.7 399.1,70.7 352.1,84.6 395,117.4 423.9,78.1 348.6,60.5 459.5,49.4 381,98.2 399.1,55.9 370.2,79 421.9,116.7 362.3,63.8 416.1,83 358.8,117.1 378.2,27.2 422.9,70.2 416.8,55.9 356.3,81.1 373.9,47.4 359.9,79.3 384.3,92.4 384.4,92.8 339.7,47.2 441.3,116.6 387.4,95.2 387.6,76.4 382.2,79.7 438.8,44.8 449.8,75 406.5,85.1 362.3,71.6 408.7,71.8 400.7,104.6 343.9,43.8 468.1,93.8 406.9,107.1 357.1,71.6 366.1,63.9 422,39.4 419.7,40.3 430.6,53 341.6,78.3 374.5,24.9 410.3,81.8 423.3,58.9 354.1,76.5 434.1,110.8 395.2,95.4 353,76.7 431,73.9 383.5,108.2 401.9,45.2 380.8,96.5 363.8,98.5 384.8,96.8 410.8,102.3 349.2,107.9 434.2,120.3 418.2,68.8 353.5,33.6 410.6,104.9 441,122.8 366.6,69.2 401.3,56 381.8,75.9 420.9,50.1 375.9,61 374.3,101 427.7,61.2 430,103.7 399.7,98.2 384,69.4 372.7,59.2 373.1,71.3 419.6,98.6 394.4,111.6 347.8,88.4 407.1,76 371.3,47.5 431,47.7 389.2,104.4 389.8,75.7 416.2,88 405.5,87.3 416.7,53.7 454,70.8 356.5,71.5 360.1,97.4 354.3,58.4 390.8,39.1 452.5,83.3 390,84.2 364.4,42 381,81 340.1,71.9 401,69.4 378.9,103.5 342.2,104 375.7,45 345,83.2 379.2,115.1 419.3,87.6 327,88.3 348.4,93.8 422.7,55.7 451.4,99.9 364.5,96.8 396.2,92.1 380.7,105.7 376.3,56.8 367,95.1 453.8,91.6 346.2,107 428.9,74.7 387.3,84.7 375.5,67.3 379.6,67 344.5,96.6 370.1,96.2 348.9,87.6 375,88.7 411.5,88.8 378.5,80.1 347.7,108.9 397.8,86.7 433.9,54.3 429.7,79.7 444.5,67.7 425.3,97.2 382.8,73.6 424,120.1 423.9,78.6 405,110.9 401,66.6 390.9,52.8 372.9,91.5 387.7,86.6 398.2,99.6 379.3,73.1 399.7,77.4 376.8,95.8 423.2,93.1 415.1,54.7 419.1,77.8 378,52.8 381.9,68.4 408,81 355.8,95.9 384.9,56.9 385.9,54.6 381.1,38.5 352.3,91.6 393.1,64.3 409.3,115.3 452.6,98.5 382.5,113 407,79.7 372,101.1 420.6,93.2 383.5,23.9 418.6,78.3 400.3,59 414.9,64.4 457.8,76.4 376.5,35.8 339.4,66.6 389.1,114.4 402.5,87.3 397,95.6 383.5,82.2 400.6,79.6 413.2,72.3 361.3,66.4 475.6,94.2 378.2,69.4 357.9,90.1 362.6,97.5 385.9,101.7 421.8,61.7 359.7,94.1 414,89.3 351.3,87.1 467.2,107.6 389.3,109.1 435.7,113.3 357.7,86.6 367.9,87.9 363.7,68.4 377.4,62.7 418.9,78.5 342,41.3 405.5,101.1 388.3,111.6 397.2,80.3 415.7,114.6 429.1,114.4 398.7,101 363.6,118 391.1,48.5 406.3,68.7 353.8,90 393.4,76.5 363.1,103.7 397,78.5 388.8,82.3 403.4,57.2 369.3,77.9 386.6,73.5 383.5,80.8 361.8,90.2 406.5,112.2 435.6,91.7 394.1,53.4 389.9,51.4 385.4,25.1 330.8,80.4 397.3,71.6 452.8,50.1 398,86.9 373.1,93.7 379.1,97.6 415.6,82.7 402.2,93.5 382.9,117.3 479.4,76.5 423.6,78.7 425.3,47.5 372.8,113 440.1,51.3 382.4,64.5 384.8,57.9 405.3,95.6 373.5,62.3 434.7,100.8 408.8,86.5 458.3,68.3 380.9,81.3 361.6,57.7 371.5,88.2 361.8,94 402.8,109.2 398.7,63.2 401.3,39.6 402.7,66.7 400.4,91.4 416.1,75.7 402.9,90.5 399.2,110.5 353.2,97.1 380.9,71.2 391.4,31.1 409.8,92.7 394.8,91.4 401,84.8 428.5,125.5 381.9,108.9 414.2,54.7 363.9,69 408.3,68.4 422.3,87.9 383,57 340.4,79 402.1,35.9 368.4,94 440.6,73.7 401.5,124.4 399.2,115 425.6,59.9 442.1,100.4 336.8,102.2 398.5,59.9 365.7,95.8 351,52.6 413.9,48.2 350.3,86.2 383.6,79.3 449.2,104.6 440.9,59.9 360.2,84 415.6,101 422.4,67 465.7,74.2 425.8,87.6 371.8,72.9 349.1,88.3 444.2,57.8 416.5,89.2 364.4,90.3 355.7,57.1 449.3,92 380.6,118.8 413.8,22.7 369.6,88.3 407.3,110.1 394.6,99.6 393.6,87.2 352.2,109 341.8,90.1 384,110.9 375.9,56.4 394,104.2 402,67.6 390.9,98.5 402.8,96.5 378.8,83.7 390.9,99.4 432,69.3 361.9,66.8 381.3,53.7 425.1,81 421,59.5 414.3,101.7 387.9,51.6 424,53.9 432.8,119.4 349,100.7 463.8,46.4 334.3,83.8 407.4,60.8 342.7,91.3 437.2,91.5 393.5,59.8 395.6,70.5 416.2,117.5 444.6,97.3 421.5,63.3 401,97.4 410.7,99.6 433,86.7 441.1,94 386.3,67.9 333,75.2 403.4,29 370.8,87.3 422.8,51.9 423.5,108.6 392.6,96.6 417.6,90.5 399.7,105.9 332.8,87.4 413.2,109.2 401,52.1 370.8,95 376.4,47.6 424.8,98.3 395.5,66.4 381.3,84.5 357.7,60.7 403.7,86.3 383.1,118.8 350.6,87.5 426.5,126.1 433.1,61.1 422.7,84.7 356.7,82.9 392.9,111.3 391.3,92.6 355.7,104.4 346.2,88.5 403.5,56 390.8,92.8 370.5,59.6 423.9,92.6 374.1,119.9 402.6,87.5 385.3,93.6 359.1,109.8 433.6,112.8 395.4,102.7 403.2,83.8 395.3,73.9 374.7,41 420.1,48.9 374.3,73.5 401.3,75.4 410.7,67.6 390.4,57.6 332.6,91.9 355.3,72.2 368.7,81.1 430.9,65.9 385.6,117.5 375.4,31 389.8,108.5 426.8,94.7 338.9,74 381.5,101.1 380.7,64.7 373.9,115.3 392.1,80.5 415.3,115.1 389,77.6 361.3,101.2 379.6,90.9 373.4,88.6 338.7,101.6 373.3,109.3 341,81.6 342.8,107.4 403.5,117.4 437.7,85.4 339.6,97.2 344.6,69.6 406.3,92 467.5,57.3 402.4,69.7 403.3,98.3 457.3,105.4 441.3,60.7 391.6,50.3 383,87.1 345.4,82.9 330.9,80.6 368.1,83.2 430.3,68.7 423.5,70.5 350.8,87.5 440.4,78.5 420.7,60.5 379.9,59.9 324.2,57.5 384.1,74.4 382.2,51.1 381,93.5 423.5,27 409.1,52.8 361.7,39.1 417.9,88 419.7,60.3 399.9,88.4 390.5,119.8 412,102.8 468.5,56.7 374.4,108.3 370.1,111.1 425.9,57.8 457.9,64.4 394.5,47.4 399.4,115.5 353.8,96.2 422.5,96.6 357.3,78 365.1,91.9 399.2,111.1 426.9,64 367.3,52.1 358.7,94.9 387.3,80.8 378.9,39.4 372.4,72.7 349,98.8 402,33.6 342.9,70.5 386.3,68.4 363.8,78.7 344.1,35.9 412.2,70 371.7,116.9 393.2,99 417.2,95.8 388.6,116.5 355.7,97.5 356.4,47.9 391.4,72 383.1,58.9 380,107 441.2,87.6 370,62.1 459.6,79.1 403.3,96.3 376.8,58.8 426.6,90.9 433.9,75.9 433.2,65.6 407.7,87.4 320.6,65.7 386.6,57.2 468.3,65.9 406.6,90.6 417.7,92.8 367.9,21 377.7,103.5 411.5,26 379.2,66.9 453.1,70.5 418.3,75.7 398.3,108 433.8,93.6 386.6,97.4 366.4,110 464.2,85.2 412.8,101.6 363.5,90.9 374.2,91.9 390.7,67.6 354.3,102 405.6,49.4 406,59.5 408,75.4 360.7,94.9 404.4,94.3 371.8,86.8 364.8,95.4 428.6,69.4 434.7,74.5 415,72.1 387.3,92.5 405,92.8 431.2,78.8 392.3,67.9 363.9,51.8 465.2,77.4 374,71.6 422.4,64.3 353.6,111.5 394.6,77.9 419.4,113 447.9,80.3 422,60 456.4,80.9 357.9,109.1 417.5,109.1 375.4,77.5 355.4,94.7 383.9,98.9 390.2,75.5 428.9,101.7 447.6,91.2 378.4,101.7 392.3,65.1 395,49.3 388.1,76.4 396.4,79.8 408.9,52.4 386.7,109.1 455.3,89.7 401.1,39.8 408.5,60.5 371.9,100.5 365.6,98.1 399.3,93.9 408,54.6 398.8,44.2 357.2,75.2 434.7,98.4 418.9,105.7 441.6,94.7 398.9,99 404.7,81.8 406.9,76.2 363.1,80.5 353.6,31.9 364.3,66.7 434.5,89.4 321.3,48.6 429.3,75.6 399.6,97 361.7,95.1 427.5,88.3 389.3,85.7 360.9,77.9 375,42.3 384.8,52.6 399.6,96.5 354.1,53.6 323.1,56.9 363.5,75.8 428.3,30.5 337.1,53.3 403.8,84 448.3,73.3 352.8,99.8 445.5,120.6 379.5,53.9 411.7,76.8 416.7,63.2 469.2,63.7 391.4,64 346.5,94.7 449.8,90.5 411.3,77.9 446.9,70.4 347.1,78.8 447.2,66.7 433.4,55.1 395.6,70.9 414.9,97.7 396.8,93 467.9,53.1 426.3,88.5 347.1,107.7 376.3,88.7 351.5,49.1 392.5,74.4 363.7,103.9 389.7,74.3 403.9,81.5 364.5,76.7 417.2,65.7 459.8,85.2 367.9,103.6 387.9,50 415,84.6 390.2,97.8 428,92.5 386.2,61 402.3,79.7 370.7,83.7 441.2,98.9 435,48.6 367.6,82.4 359.7,69.3 400.9,111.9 417,76.2 409,62.5 402,91.6 397.6,114.4 462.6,104.5 422.2,101.1 423.9,61.5 431.3,111.7 367.8,70.7 365.7,38.8 409.4,50.7 385.2,59.1 419.7,88.2 346.7,73.6 423,102.8 372.6,90.1 363.7,115.8 407.1,54.1 386.8,71.5 473.4,79.3 428.8,102.5 381.1,76.1 417.1,105.9 357.3,71.5 410.3,97.5 401.1,94.7 457.9,88.8 416.4,99.7 435.7,83.4 421.5,116.5 394.4,99.3 390.9,117.2 387.8,77.5 377.5,113.5 358,86.1 416.6,74.2 396.8,66.3 369.9,77.6 362.6,77.5 387.5,80.5 436.3,111.4 383.9,80.3 332,97.8 343.3,64.9 399.7,62.4 419.4,71.6 391,79.9 408.8,110.6 402.9,56.5 402.3,61 388.1,78.8 359,88.5 396.3,30.7 396.6,100.9 375.6,71.9 356.1,54.4 353.6,47.3 409.8,81.6 403.2,77.2 383.7,60.3 408,64 372.3,90 431.6,76.9 394.7,113.1 403.1,79.1 360.5,109.3 403,87 366.2,60.1 406.3,64.2 368,73.4 349.9,60.7 403.2,84.1 381,54.3 417.8,83.1 385,84.8 425.5,66 413.8,35.1 392.1,92.2 403.2,86.4 418.3,89.2 366.5,66.6 417.5,95.5 382.5,16.1 379.1,85.9 460.5,54.7 376.3,55.5 403.8,77.5 340,63 409.8,88 420.5,76 346.2,37.2 391.3,64.7 411.3,94.6 448,90.1 427.3,46.6 350.8,87.5 357.3,76.6 344.6,86 426.4,106.3 373,72.8 382.2,88.8 394.1,88.3 390.2,106.3 382.2,102.3 394.5,93 386.6,85.2 429.9,91.9 429.5,86.3 385.3,81.6 424,100.2 414.7,106.6 386.8,26.9 438.6,103.6 393.9,61.5 392.2,62.7 404,49.5 443.8,94.1 323.4,65.7 379.1,99.3 415.2,111.2 416,61.6 417.3,67.7 424.4,65.5 361,77.5 433.3,102.7 383,84 358.3,96.3 390,73.9 351.4,113.1 436.3,87.3 459.2,90.7 404.2,34.5 338.3,68 464.8,63.9 370.2,82.2 376.8,68.2 348.4,61.1 414.8,88.9 341.9,93.1 411.2,16.6 411.1,123.3 378.7,91.8 348.2,66.5 386.5,103.3 419.4,49.5 388.5,115.4 435.2,37.4 462.1,47.8 367.8,73.7 353,49.5 332.3,80.2 418.6,96.8 467.6,54.6 344.4,104.9 380.4,56.3 440.9,106.8 389.8,126.7 376,99 428.4,75.5 369.8,87.9 337,50.8 404,115.3 455.7,95.9 418.8,117 388.8,85.7 365.3,91.3 398.8,63.4 458.2,69 416.1,110.7 384.4,96.3 334.6,99 348.7,53.9 360.9,99.1 448.3,94.7 470.8,90.8 460.3,79.8 399.6,74 352.2,50.2 376.4,120.3 359.6,64.9 368.9,122.3 452.4,41.4 389.4,32.5 423.1,45.9 439.8,76.7 451.6,73.5 350.1,26.7 415.3,70.4 425.9,89.1 358.3,50.5 450.3,92.9 431,63.2 366.4,88 397.1,93.1 384,67.1 385.4,43 361,76.2 413.9,64.6 351.6,108.3 386.9,39.7 444,78.3 393.9,123.5 421.8,123 403.2,84.1 414.8,76.6 332,68.9 391,71.7 418.6,81 429.5,87.4 423.8,84 416.7,38.4 418.7,74.9 365.6,80.7 450.9,68.5 412.7,25.1 334.3,70.5 418.7,75.5 400.3,57.8 422.1,60.1 373.3,50.7 328.6,80.2 432,66.1 383.7,99.2 410.3,63 322.9,80.9 399.6,42.7 382.6,107.2 401.1,66.1 444.6,52.6 407.9,70.6 452.5,78.4 426.6,54.3 371.6,100.9 383,92.2 366.8,103.7 456.5,101.2 361.2,95.5 459,104.7 389,126.8 369.6,78.9 420,77.7 375.8,88.8 387.6,82 374.7,63.1 392.4,71.4 374.4,59.1 401.1,51.3 428.1,104 401.5,126.9 352.4,63.2 421.5,120.3 380.9,45 438.4,92.6 386.9,94.2 361.3,49.2 402.1,120 411,126 352.2,65.2 337.7,36.9 428.1,100.6 447.2,64.6 399.3,76.6 343.6,92.3 360.8,43.2 365.2,112.8 351.1,65.2 336.9,76.2 404.9,126.6 423.2,50.2 404.6,20.9 363.7,85.8 351.1,74.9 461.8,98.9 389.4,19.2 406.1,37.3 414.6,106.9 449.6,97.2 394,106.6 361.4,69.4 378.4,80.3 360.1,91.2 375.6,81.8 412.3,84.8 451.3,93.7 430,77.8 411.2,113.3 389.3,54.1 394.7,32.9 394.4,69.3 369.1,83.8 413.7,66.1 366.4,48.7 367.3,108.8 370.5,39 395.2,66 383,81.4 379.2,60.6 441.1,70.1 379.2,103.3 401.7,111.2 325.4,69.2 375.4,124.4 386.4,127.1 466.7,90.9 444.9,63.5 397.9,94.4 339.9,53.7 472.1,89.7 438.7,57.4 396.1,43.7 456.8,72.5 436.9,81 334.4,81.8 397.2,65.2 379,33.9 414.6,80.1 469.4,87.7 368.4,51 347,95.7 367,65.5 329.2,42.7 410.9,67.1 406.1,55.1 415.4,62.1 386.6,70.8 343.8,64.9 471.3,58.8 320.3,82.9 351.8,98.9 368.9,114.3 355.2,98.9 456.4,109.3 410.5,114.1 376.9,83.6 349.9,44.6 382.5,123.8 355.4,80.1 403.9,94.1 368.8,54.1 402.4,75.2 448.5,78.3 352.7,74.6 442.8,67.7 370.3,57.9 442.5,103.2 421,58.6 419.1,43.3 338.7,37 386.2,116.6 431.6,48.8 395.3,74.7 402.4,93.2 406.7,82.6 433.6,45.7 378,89.1 367.9,91.3 379,59.2 398.5,105 424.4,53.2 335.2,82.8 355.8,85 388.8,82.2 444.1,46.1 410.4,85.9 399.9,50.5 427.6,80.2 398.6,101.3 430.7,82.2 395.5,37.3 411,45.1 450.8,91.4 337.5,61.5 361.3,104.9 417.5,93.2 390,112.7 420.2,50.2 456.2,49.2 415.4,123.1 425,52.5 348.5,68.5 462.9,44.1 444.9,95.5 455.5,83.7 363.5,78.4 398.4,49.5 354.8,86.9 436.8,113 417.8,62.2 410.2,84 435.7,90.5 379.8,104.1 443.5,93 365.2,21.9 397.1,95.6 380.8,59.7 401.4,37 418.8,76.3 400,120.9 435.9,80.7 403.7,86.1 470.7,92 386.7,98.7 333.5,65.8 328.9,53.9 412.5,98.1 339.3,92.4 362.4,51.6 433.5,89.5 401.3,100 357.8,72.2 371.1,73.2 399.2,63.4 384,118.7 350.3,73.8 374.2,72 385.2,123.1 456.1,95.6 468.5,96.9 400.2,67.5 347.7,50.5 368.3,75.8 384.2,98.5 441,83.6 378.8,74.1 408.7,125.7 414.6,76.3 429.5,73.7 397.7,92 404.7,95.2 322.7,73.2 409.3,63.7 374.1,63.4 437.1,75.2 448.4,109.8 464.2,95.5 376.7,107 377.5,42.4 351.8,64.6 388.7,108.2 427.2,78.2 381.6,67.6 414.8,46.8 434.6,89.9 441.8,44.3 394.7,74.7 376.9,92.8 389.5,115.7 427.8,102.8 364.4,84.5 389.4,27.8 362.8,54.8 337,68.8 441.9,30.4 418.8,73.1 395.6,126 339,67.7 355.5,56 399,127 362.9,59.9 376.9,111.2 404.5,43.5 400.4,37.5 329.6,92.3 353.7,61.4 366,80.2 446,104.3 387.9,80.7 365.6,79.5 418.9,85.6 420,39.5 392.8,96.6 396,113.2 410.2,58.2 404.2,82.4 476.1,64.8 363.7,62.7 426.2,118.5 403.7,67.7 401.8,19.8 393.8,18.9 418.9,70.5 347.6,95.2 353.9,51.6 400,63.1 422.4,84.4 352.3,84.7 358.6,83.1 411,43.9 380.4,101.1 445,57.5 347.4,110.5 393.5,118.7 378.1,85.8 387.3,47.1 398.6,48.8 384.5,94.7 355,85.2 366.6,99.2 390.5,91.8 393.6,127.8 426.9,74.5 438.8,73.2 393.8,75.1 456.6,79.8 359.1,79.2 344.9,97.7 451,94.4 412.6,96.7 342.3,91.9 374.4,24.4 365.2,82.5 365.6,76.3 399,48.2 392.1,118.3 405.3,102.8 376.1,95.7 418.6,85.9 430.1,31.8 389.8,83.6 397,79.5 327.9,67.8 408.2,98.5 395,41.7 365.3,70.8 329.3,92.4 359.2,62.9 374.6,43.8 359.3,95.5 324.6,65.4 394.6,117.4 356.7,86.8 379.1,43.9 372.2,58.1 353.5,87.5 440.6,30.3 411.2,84.6 405.5,84 360.8,72.6 408.1,76.4 352.7,88 472.8,80.8 432.3,79 444.3,99.4 364.9,77.6 396.5,74.5 366.7,102.7 408.7,87.7 429.4,121.1 415.5,80.3 407.9,124.3 374.3,17.7 426,114.1 431,47.1 394,68.7 416.2,102.1 414.7,82.2 418,87.8 357.8,100.4 383.7,46.5 396.1,82.4 330.1,85.7 429,109.5 378.1,97.6 404,104.9 382.7,119.5 396.6,122.2 449.5,81.2 423.3,121.1 418.1,50.2 342.3,67.8 389.7,47.8 351,54.5 339.7,66 344.5,47.3 465.4,86.3 347,29 331.7,76.2 359.8,89.3 408.3,73.8 398.2,50.8 350.8,90.6 368.2,65.5 365.8,80 423.1,57.1 414,50.1 438,86.8 425,103.7 375.3,74.6 410.6,77.4 390.6,102.3 335.9,98.4 387.7,118.8 391.8,73.2 435.6,64.9 354.9,69.3 458.3,78.4 406.2,30.7 407.3,98.9 377.5,62.4 403.2,81.2 364.9,97.7 416.5,101.6 355.9,88.9 443.9,48.4 369.9,116.2 433.6,122.4 377,70.6 376,105.2 416.2,19.5 422.7,33.3 430.8,99.2 427.3,23.9 454.4,112.2 325.9,76.8 382.5,36.4 419.5,68.9 348.8,33.1 358.9,81.6 385.5,94.3 385.4,83.4 412.7,84.8 383.1,27.8 419.8,72.2 389.5,101.5 428.9,29.6 334.3,74.7 436.9,95.6 415.3,55.5 336.2,62.8 328.8,78.5 389.1,63.6 432.6,25.2 384.5,65.2 422.9,119.9 348.2,35.4 365.6,88.5 447.5,70.7 439.4,93.2 449.3,86.5 379.5,64.8 379.7,65.7 348.1,103.7 378.2,35.5 377.8,105.3 410.1,89 421.9,89 365.3,96.4 386.4,117.1 324.9,84.9 339.9,59.9 429.4,109 338.8,49 389.5,88.2 369.7,56.6 450.3,77.9 352.9,37 402.6,60.2 426.5,73.4 456.3,78.8 424.9,112.3 375.3,70.2 408.4,98.7 393.4,35.4 394.9,73.3 417.1,95.5 318.2,71.8 407.5,82.2 341.1,83.6 368.6,120.6 411,92.4 396.7,65.6 320.9,71.9 389.7,87.8 428.4,102.1 335.6,84 346.5,105.9 375.6,37.3 381.7,39.9 417.9,108 406.2,96.6 451,105.5 397.5,71.1 359.7,91 403.1,95 353.1,79 372.8,89.7 444.4,89 412.8,63 376.5,48.9 406.3,117.8 420.2,36.4 397.7,45.1 353.3,80.3 324.7,74.5 385.2,38.9 396.2,101.4 399.6,72.9 430.6,85.9 359.4,47.5 388.4,87 342.2,92.6 354,101.3 392.9,72.7 348.6,101 423.7,39.8 348,30.1 376.9,94.3 401.2,73.7 438,90.2 360.4,79.4 387.7,93.2 371.7,62.6 372.3,121.4 398,79.6 391.9,82.6 346.2,35.2 438.6,36 317.6,71.7 384.3,79.7 413.1,56 416.9,60.5 364.8,23.7 446.2,116.7 350.7,61 425.1,103.8 407.9,95.3 395.5,70.9 382,97 402.8,105.9 397.6,72.7 399.9,95.2 389.2,60.3 423.8,87.9 431.9,72.7 371.7,103 413.5,97.5 451.7,57.2 449.4,43.8 348,92.1 389.9,87.6 399.4,70.2 340.9,38.3 403.3,76.4 384.1,89 408,112.1 345.5,31 378.1,88.4 373.4,71.8 424.5,49.1 437.7,63.2 397.4,56.3 407,102.7 416.8,63.3 388.2,65.4 415.1,102.2 340.1,49.8 429.7,64.7 438.5,87.9 395.9,70.1 438.1,43.3 399.7,115.4 444.9,87.1 425.4,62.5 327.8,84.8 433.6,104.9 434.8,65.2 363,101.3 349.8,65.4 421.7,115.9 338.6,84.4 386.3,68.2 368.2,106.8 402.6,42.8 412.1,118.4 436,63.3 440.4,54.6 390.1,103 384.1,58.7 379.8,92.1 414.5,75.1 430.9,35 440.9,46.1 471.9,59.7 398.9,123.4 321.7,84.5 376.6,64.8 435.6,76.5 392.1,82.3 437.7,79.3 358.3,81.1 418.4,54.6 375.1,58.1 379.1,79.5 386.2,74.2 461.3,85.9 410.2,82.3 437.3,119.2 326.3,66.1 409.8,93.1 372.7,97.5 446.6,70 401.5,76.4 359.6,29.5 348.2,87.2 378.5,115.7 342.1,69.1 381.9,92.7 414.4,66.6 372.5,105.8 351.2,80.7 360.8,115.4 368.4,39.6 396.3,43.2 453.3,95.3 387.6,101.4 361.4,77.9 372.1,56.9 434.7,117.6 431.8,89.4 389,109.7 370.8,68.2 381.3,64.8 432.2,90.6 353.8,75.5 372.3,89.6 377.9,59.4 360.2,51.8 429.7,63.2 390.7,40.1 401.4,111.3 351,84.3 408.1,91 319.4,65.4 351.1,102.5 388.7,106.1 375.9,116.4 410.8,68.7 432.7,84.9 440,61.6 435.7,54.7 359.2,61 411.3,74.6 448.9,77.1 384.6,103.3 403.6,63.5 389.1,98.5 436.4,102.7 366.6,94.3 432.6,52.8 368.1,90.9 367.9,85.7 414,75.8 340.7,92.2 426.5,68.4 415.3,118.5 331.3,99.2 404.9,75.9 434.6,76.8 414.2,112.9 359,113.2 382.5,44.7 465.9,86.1 420.8,91 351.5,43.1 345.6,108.1 366.9,41.6 360,111.3 401.2,98.8 378.1,97.5 419.2,70.2 374.1,43.1 398,45.5 457.9,84.6 368.5,89.9 391.5,53.5 336.2,36 418.4,62.9 412.1,107.4 339.3,90.1 429.5,80.8 403.6,99.2 368.3,92.7 384.7,85.6 462.5,47.3 378.3,111.9 395,101.1 374.2,77 355,42 364,57.3 350.3,110 343.1,54.9 399,72.2 383.6,82.9 361.2,69.7 447.5,105.3 442.8,81.5 332.4,98.7 414.1,75.2 394.9,78.5 384.2,80.1 416.2,121.1 333.3,86.4 385.7,97.1 356.9,116.9 413,122.1 442.3,81.7 379.3,86.9 356.6,37.9 417.6,59.8 462.7,41.6 413.2,91.8 455,55.3 430.3,41.3 373.8,88.1 458,93.7 352,114.6 343.3,106.4 414.7,99.1 333.3,60.4 414.3,90.8 350.3,47.8 450.9,69.6 411.5,51 393.8,89.8 329.1,70.1 372.5,69.1 404,74.1 372.2,79.9 464.9,69 441.5,63.8 379.7,99.9 372.7,97.6 368.8,43.7 429.7,118.8 421.5,49.2 418.1,102.2 359.3,75.2 400.2,96.7 338.6,67 387.3,77.4 422.8,107.7 354.7,110.5 406.1,91.6 385.1,44.4 337.1,80.2 362,80.8 328.2,73.4 403.8,112.8 331.8,78.9 401.7,44.8 412.7,20.8 347.1,74.1 418,85.3 442.5,92.1 419.2,61.8 413.7,117.1 449,53.6 415,113.6 411.5,50.7 392,36.2 401.3,109.8 467.8,84.7 419.7,98.7 421.1,101.3 387,81.7 401.5,85.8 400.9,44 414.8,110.5 391.4,127.2 388.4,108.1 434,48.7 333.4,87.2 394.4,68.4 424.9,96.2 416.7,96.4 367.4,60.9 409.1,28.7 454.2,82.3 331,95.7 442.2,97.5 376.7,97 408.1,99 339.8,87 349.5,102.7 356.1,112.4 331.8,66 462,92.8 447.7,113.7 408,94.8 402.4,77.8 414.7,77.9 477.8,67.6 358.2,23.1 413.4,88.1 385,91.3 408.3,97.8 322.6,72.8 336.1,43.6 467.3,95.9 450.7,99.8 334.9,60.8 354.8,90.1 435.6,52 417.2,86.1 396.8,53.6 447.6,48.1 328.1,58.7 401.5,69.6 415.8,117.7 363.9,112.2 374.4,54.1 380.5,61.8 351.8,70.8 363.7,64.6 474.5,86.9 442.2,102.2 394.7,70.3 415.7,61.4 395.9,100.1 334.1,61.4 370.8,67.5 466.3,69.6 430.7,72.2 421.3,124.4 433.5,86 458.7,76.7 339.4,53.1 435.5,46.8 340.6,33 431.3,73.7 342.6,44.8 469.7,72 365.7,115.1 394.6,119.6 422.2,83.9 381.5,70.7 447,103.7 347.7,105.2 377.7,125.1 438,117 340.5,49.2 416.9,69.5 434.9,104.6 351.5,73.4 334.6,39.7 412.4,112.3 401.3,58 396.1,76.6 400.9,78.2 352,85.6 463.5,41.5 330.2,83.2 421.3,69.2 382.4,52.2 459.4,47.4 351.8,90.4 390.8,119.7 349.9,81.7 365.6,103.8 471.9,93.8 413.7,58.4 398,74.7 377.1,88.1 404.7,36.4 366.9,52.4 346.5,104.2 425.3,75.3 406.5,125.6 356.3,58.6 371.3,50.2 415.6,60 382.3,56.2 416,20.5 328.3,80.2 384.5,62.1 378.1,121.3 385.9,82.3 365.7,54.3 348.8,29.1 349.3,101.9 361.3,98.1 425.9,92.5 373.9,67.5 437.5,56.8 422.4,116.2 434,99 386.6,101 362.4,105.1 387.2,27.9 437.1,71.3 434.3,38.6 387.2,94.9 320.9,70.2 384.4,96.3 467.7,72.9 353.1,101.9 412.4,78.6 388.7,106.8 393.7,110.8 407.2,32.8 456.6,94.4 387.6,21 367.3,61.1 372.1,83.6 407.2,81.4 358.7,106 426.1,90.3 462.2,44.4 386.7,42.3 443.7,48.8 469.8,87 397.8,90.4 404.2,59.6 383.1,110.8 370.6,70.5 393.6,45.4 407.6,55.5 444.7,41.3 374.9,64.8 453.3,68.6 414.7,53.3 421.7,110.2 433,95.7 393.7,30.2 376.7,110.9 433.7,44.2 394.6,48.6 415.7,56.8 413.6,17.8 402.2,75.6 448.3,83 412.4,87.4 404.2,95.3 379.7,38.2 435.3,73.5 405.4,91 413.7,117.8 425.6,86.1 403.8,30.1 338.7,38.1 456.4,76.8 333.2,86 407.7,108.4 350.7,33.3 395.5,65.8 461.8,71.1 412,97.9 455.3,88.3 420.5,90.5 421,111.3 380.3,55.7 372.6,107.5 359.8,56.3 425.3,80.4 404.9,27.6 376.5,108.3 370.1,64.1 443.9,84.8 368.3,70.4 370.2,71.9 396.3,47.2 435.2,83.5 371.2,88.2 426.4,107.4 439.3,68.6 355.1,50.8 350.4,43.9 376.9,93.7 423.9,60.8 436.1,117 392.1,109.7 380.5,38 459.5,67.5 393.8,110.9 335.8,61.3 394,104.4 383.9,33.3 401.7,69.4 334.1,51.1 419,116.6 385.7,94.5 374.1,62.9 350.8,43.1 432.2,65 349.5,84.4 365.3,27 428.1,117.3 381.3,121.7 402.7,120.3 385.3,110.1 378,96.8" fill="none" stroke="none" marker-start="url(#mc)" marker-mid="url(#mc)" marker-end="url(#mc)"/>
<rect x="304" y="10.4" width="185.9" height="140.4" fill="none" stroke="#808080" stroke-width="1.25"/>
<line x1="334.9" y1="150.8" x2="334.9" y2="152.9" stroke="#3a3a3a" stroke-width="0.8"/>
<text x="334.9" y="162.5" text-anchor="middle" class="t">−200</text>
<line x1="396.5" y1="150.8" x2="396.5" y2="152.9" stroke="#3a3a3a" stroke-width="0.8"/>
<text x="396.5" y="162.5" text-anchor="middle" class="t">0</text>
<line x1="458.1" y1="150.8" x2="458.1" y2="152.9" stroke="#3a3a3a" stroke-width="0.8"/>
<text x="458.1" y="162.5" text-anchor="middle" class="t">200</text>
<line x1="301.9" y1="150.8" x2="304" y2="150.8" stroke="#3a3a3a" stroke-width="0.8"/>
<text x="299.6" y="154.5" text-anchor="end" class="t">−200</text>
<line x1="301.9" y1="115.7" x2="304" y2="115.7" stroke="#3a3a3a" stroke-width="0.8"/>
<text x="299.6" y="119.4" text-anchor="end" class="t">−100</text>
<line x1="301.9" y1="80.6" x2="304" y2="80.6" stroke="#3a3a3a" stroke-width="0.8"/>
<text x="299.6" y="84.3" text-anchor="end" class="t">0</text>
<line x1="301.9" y1="45.5" x2="304" y2="45.5" stroke="#3a3a3a" stroke-width="0.8"/>
<text x="299.6" y="49.2" text-anchor="end" class="t">100</text>
<line x1="301.9" y1="10.4" x2="304" y2="10.4" stroke="#3a3a3a" stroke-width="0.8"/>
<text x="299.6" y="14.1" text-anchor="end" class="t">200</text>
<text x="396.3" y="174.5" text-anchor="middle" class="l"><tspan font-style="italic">v</tspan><tspan dy="1.8" dx="0.4" font-size="7.8" font-style="italic">x</tspan><tspan dy="-1.8" dx="0.3"> (km/s)</tspan></text>
<text transform="translate(266.3,80.6) rotate(-90)" text-anchor="middle" class="l"><tspan font-style="italic">v</tspan><tspan dy="1.8" dx="0.4" font-size="7.8" font-style="italic">y</tspan><tspan dy="-1.8" dx="0.3"> (km/s)</tspan></text>
<path d="M56.6 335.5V320.8H68.7V329.1H80.7V306.6H92.8V296.2H104.9V255.3H116.9V231.5H129V205.3H141.1V197.2H153.2V206.2H165.2V231.5H177.3V255.1H189.4V287.3H201.4V314.9H213.5V320.8H225.6V320.8H237.6V335.5Z" fill="#808080" stroke="#1a1a1a" stroke-width="1" stroke-linejoin="miter"/>
<rect x="47.9" y="190.4" width="198.9" height="145.1" fill="none" stroke="#808080" stroke-width="1.25"/>
<line x1="89.7" y1="335.5" x2="89.7" y2="337.6" stroke="#3a3a3a" stroke-width="0.8"/>
<text x="89.7" y="347.2" text-anchor="middle" class="t">−2500</text>
<line x1="147" y1="335.5" x2="147" y2="337.6" stroke="#3a3a3a" stroke-width="0.8"/>
<text x="147" y="347.2" text-anchor="middle" class="t">0</text>
<line x1="204.3" y1="335.5" x2="204.3" y2="337.6" stroke="#3a3a3a" stroke-width="0.8"/>
<text x="204.3" y="347.2" text-anchor="middle" class="t">2500</text>
<line x1="45.8" y1="296.2" x2="47.9" y2="296.2" stroke="#3a3a3a" stroke-width="0.8"/>
<text x="43" y="300" text-anchor="end" class="t" style="font-size:10.8px">10<tspan dy="-3.9" style="font-size:7.2px">1</tspan></text>
<line x1="45.8" y1="249.2" x2="47.9" y2="249.2" stroke="#3a3a3a" stroke-width="0.8"/>
<text x="43" y="253" text-anchor="end" class="t" style="font-size:10.8px">10<tspan dy="-3.9" style="font-size:7.2px">2</tspan></text>
<line x1="45.8" y1="202.2" x2="47.9" y2="202.2" stroke="#3a3a3a" stroke-width="0.8"/>
<text x="43" y="206" text-anchor="end" class="t" style="font-size:10.8px">10<tspan dy="-3.9" style="font-size:7.2px">3</tspan></text>
<line x1="46.6" y1="329.1" x2="47.9" y2="329.1" stroke="#444" stroke-width="0.6"/>
<line x1="46.6" y1="320.8" x2="47.9" y2="320.8" stroke="#444" stroke-width="0.6"/>
<line x1="46.6" y1="314.9" x2="47.9" y2="314.9" stroke="#444" stroke-width="0.6"/>
<line x1="46.6" y1="310.3" x2="47.9" y2="310.3" stroke="#444" stroke-width="0.6"/>
<line x1="46.6" y1="306.6" x2="47.9" y2="306.6" stroke="#444" stroke-width="0.6"/>
<line x1="46.6" y1="303.5" x2="47.9" y2="303.5" stroke="#444" stroke-width="0.6"/>
<line x1="46.6" y1="300.8" x2="47.9" y2="300.8" stroke="#444" stroke-width="0.6"/>
<line x1="46.6" y1="298.4" x2="47.9" y2="298.4" stroke="#444" stroke-width="0.6"/>
<line x1="46.6" y1="282.1" x2="47.9" y2="282.1" stroke="#444" stroke-width="0.6"/>
<line x1="46.6" y1="273.8" x2="47.9" y2="273.8" stroke="#444" stroke-width="0.6"/>
<line x1="46.6" y1="267.9" x2="47.9" y2="267.9" stroke="#444" stroke-width="0.6"/>
<line x1="46.6" y1="263.3" x2="47.9" y2="263.3" stroke="#444" stroke-width="0.6"/>
<line x1="46.6" y1="259.6" x2="47.9" y2="259.6" stroke="#444" stroke-width="0.6"/>
<line x1="46.6" y1="256.5" x2="47.9" y2="256.5" stroke="#444" stroke-width="0.6"/>
<line x1="46.6" y1="253.8" x2="47.9" y2="253.8" stroke="#444" stroke-width="0.6"/>
<line x1="46.6" y1="251.4" x2="47.9" y2="251.4" stroke="#444" stroke-width="0.6"/>
<line x1="46.6" y1="235.1" x2="47.9" y2="235.1" stroke="#444" stroke-width="0.6"/>
<line x1="46.6" y1="226.8" x2="47.9" y2="226.8" stroke="#444" stroke-width="0.6"/>
<line x1="46.6" y1="220.9" x2="47.9" y2="220.9" stroke="#444" stroke-width="0.6"/>
<line x1="46.6" y1="216.3" x2="47.9" y2="216.3" stroke="#444" stroke-width="0.6"/>
<line x1="46.6" y1="212.6" x2="47.9" y2="212.6" stroke="#444" stroke-width="0.6"/>
<line x1="46.6" y1="209.5" x2="47.9" y2="209.5" stroke="#444" stroke-width="0.6"/>
<line x1="46.6" y1="206.8" x2="47.9" y2="206.8" stroke="#444" stroke-width="0.6"/>
<line x1="46.6" y1="204.4" x2="47.9" y2="204.4" stroke="#444" stroke-width="0.6"/>
<text x="147.2" y="359.5" text-anchor="middle" class="l">x (pc)</text>
<text transform="translate(21.1,262.8) rotate(-90)" text-anchor="middle" class="l">Number of stars</text>
<path d="M305.2 334.9V324.3H317.1V311.1H329.1V293.7H341V267H352.9V248.2H364.9V223.7H376.8V206.2H388.7V197.5H400.6V215.5H412.6V234.8H424.5V248.2H436.4V286.2H448.4V304.4H460.3V316H472.2V326.9H484.2V334.9Z" fill="#808080" stroke="#1a1a1a" stroke-width="1" stroke-linejoin="miter"/>
<rect x="296.7" y="190.4" width="196.9" height="144.5" fill="none" stroke="#808080" stroke-width="1.25"/>
<line x1="324.4" y1="334.9" x2="324.4" y2="337" stroke="#3a3a3a" stroke-width="0.8"/>
<text x="324.4" y="346.6" text-anchor="middle" class="t">−200</text>
<line x1="392.5" y1="334.9" x2="392.5" y2="337" stroke="#3a3a3a" stroke-width="0.8"/>
<text x="392.5" y="346.6" text-anchor="middle" class="t">0</text>
<line x1="460.5" y1="334.9" x2="460.5" y2="337" stroke="#3a3a3a" stroke-width="0.8"/>
<text x="460.5" y="346.6" text-anchor="middle" class="t">200</text>
<line x1="294.6" y1="334.9" x2="296.7" y2="334.9" stroke="#3a3a3a" stroke-width="0.8"/>
<text x="292.3" y="338.5" text-anchor="end" class="t">0</text>
<line x1="294.6" y1="307.7" x2="296.7" y2="307.7" stroke="#3a3a3a" stroke-width="0.8"/>
<text x="292.3" y="311.3" text-anchor="end" class="t">100</text>
<line x1="294.6" y1="280.5" x2="296.7" y2="280.5" stroke="#3a3a3a" stroke-width="0.8"/>
<text x="292.3" y="284.1" text-anchor="end" class="t">200</text>
<line x1="294.6" y1="253.3" x2="296.7" y2="253.3" stroke="#3a3a3a" stroke-width="0.8"/>
<text x="292.3" y="256.9" text-anchor="end" class="t">300</text>
<line x1="294.6" y1="226.1" x2="296.7" y2="226.1" stroke="#3a3a3a" stroke-width="0.8"/>
<text x="292.3" y="229.7" text-anchor="end" class="t">400</text>
<line x1="294.6" y1="198.9" x2="296.7" y2="198.9" stroke="#3a3a3a" stroke-width="0.8"/>
<text x="292.3" y="202.5" text-anchor="end" class="t">500</text>
<text x="394.6" y="358.6" text-anchor="middle" class="l">v<tspan dy="1.8" dx="0.4" font-size="7.8" font-style="italic">x</tspan><tspan dy="-1.8" dx="0.3"> (km/s)</tspan></text>
<text transform="translate(268.2,262.6) rotate(-90)" text-anchor="middle" class="l">Number of stars</text>
<path d="M56.6 520V500.3H68.7V513.2H80.7V487.4H92.8V460.4H104.8V440.3H116.8V410.7H128.9V390.3H141V381.6H153V384.5H165.1V402H177.1V421.2H189.2V445H201.2V463.9H213.3V492.7H225.3V513.2H237.4V520Z" fill="#808080" stroke="#1a1a1a" stroke-width="1" stroke-linejoin="miter"/>
<rect x="47.9" y="374.7" width="198.8" height="145.3" fill="none" stroke="#808080" stroke-width="1.25"/>
<line x1="94.7" y1="520" x2="94.7" y2="522.1" stroke="#3a3a3a" stroke-width="0.8"/>
<text x="94.7" y="531.7" text-anchor="middle" class="t">−2500</text>
<line x1="149.8" y1="520" x2="149.8" y2="522.1" stroke="#3a3a3a" stroke-width="0.8"/>
<text x="149.8" y="531.7" text-anchor="middle" class="t">0</text>
<line x1="204.9" y1="520" x2="204.9" y2="522.1" stroke="#3a3a3a" stroke-width="0.8"/>
<text x="204.9" y="531.7" text-anchor="middle" class="t">2500</text>
<line x1="45.8" y1="513.2" x2="47.9" y2="513.2" stroke="#3a3a3a" stroke-width="0.8"/>
<text x="43" y="517" text-anchor="end" class="t" style="font-size:10.8px">10<tspan dy="-3.9" style="font-size:7.2px">0</tspan></text>
<line x1="45.8" y1="470.3" x2="47.9" y2="470.3" stroke="#3a3a3a" stroke-width="0.8"/>
<text x="43" y="474.1" text-anchor="end" class="t" style="font-size:10.8px">10<tspan dy="-3.9" style="font-size:7.2px">1</tspan></text>
<line x1="45.8" y1="427.4" x2="47.9" y2="427.4" stroke="#3a3a3a" stroke-width="0.8"/>
<text x="43" y="431.2" text-anchor="end" class="t" style="font-size:10.8px">10<tspan dy="-3.9" style="font-size:7.2px">2</tspan></text>
<line x1="45.8" y1="384.5" x2="47.9" y2="384.5" stroke="#3a3a3a" stroke-width="0.8"/>
<text x="43" y="388.3" text-anchor="end" class="t" style="font-size:10.8px">10<tspan dy="-3.9" style="font-size:7.2px">3</tspan></text>
<line x1="46.6" y1="519.8" x2="47.9" y2="519.8" stroke="#444" stroke-width="0.6"/>
<line x1="46.6" y1="517.4" x2="47.9" y2="517.4" stroke="#444" stroke-width="0.6"/>
<line x1="46.6" y1="515.2" x2="47.9" y2="515.2" stroke="#444" stroke-width="0.6"/>
<line x1="46.6" y1="500.3" x2="47.9" y2="500.3" stroke="#444" stroke-width="0.6"/>
<line x1="46.6" y1="492.7" x2="47.9" y2="492.7" stroke="#444" stroke-width="0.6"/>
<line x1="46.6" y1="487.4" x2="47.9" y2="487.4" stroke="#444" stroke-width="0.6"/>
<line x1="46.6" y1="483.2" x2="47.9" y2="483.2" stroke="#444" stroke-width="0.6"/>
<line x1="46.6" y1="479.8" x2="47.9" y2="479.8" stroke="#444" stroke-width="0.6"/>
<line x1="46.6" y1="476.9" x2="47.9" y2="476.9" stroke="#444" stroke-width="0.6"/>
<line x1="46.6" y1="474.5" x2="47.9" y2="474.5" stroke="#444" stroke-width="0.6"/>
<line x1="46.6" y1="472.3" x2="47.9" y2="472.3" stroke="#444" stroke-width="0.6"/>
<line x1="46.6" y1="457.4" x2="47.9" y2="457.4" stroke="#444" stroke-width="0.6"/>
<line x1="46.6" y1="449.8" x2="47.9" y2="449.8" stroke="#444" stroke-width="0.6"/>
<line x1="46.6" y1="444.5" x2="47.9" y2="444.5" stroke="#444" stroke-width="0.6"/>
<line x1="46.6" y1="440.3" x2="47.9" y2="440.3" stroke="#444" stroke-width="0.6"/>
<line x1="46.6" y1="436.9" x2="47.9" y2="436.9" stroke="#444" stroke-width="0.6"/>
<line x1="46.6" y1="434" x2="47.9" y2="434" stroke="#444" stroke-width="0.6"/>
<line x1="46.6" y1="431.6" x2="47.9" y2="431.6" stroke="#444" stroke-width="0.6"/>
<line x1="46.6" y1="429.4" x2="47.9" y2="429.4" stroke="#444" stroke-width="0.6"/>
<line x1="46.6" y1="414.5" x2="47.9" y2="414.5" stroke="#444" stroke-width="0.6"/>
<line x1="46.6" y1="406.9" x2="47.9" y2="406.9" stroke="#444" stroke-width="0.6"/>
<line x1="46.6" y1="401.6" x2="47.9" y2="401.6" stroke="#444" stroke-width="0.6"/>
<line x1="46.6" y1="397.4" x2="47.9" y2="397.4" stroke="#444" stroke-width="0.6"/>
<line x1="46.6" y1="394" x2="47.9" y2="394" stroke="#444" stroke-width="0.6"/>
<line x1="46.6" y1="391.1" x2="47.9" y2="391.1" stroke="#444" stroke-width="0.6"/>
<line x1="46.6" y1="388.7" x2="47.9" y2="388.7" stroke="#444" stroke-width="0.6"/>
<line x1="46.6" y1="386.5" x2="47.9" y2="386.5" stroke="#444" stroke-width="0.6"/>
<text x="147.2" y="543.9" text-anchor="middle" class="l">y (pc)</text>
<text transform="translate(21.1,447.2) rotate(-90)" text-anchor="middle" class="l">Number of stars</text>
<path d="M332.8 518V503.4H342.1V480.2H351.5V450.4H360.8V419.3H370.1V396.1H379.5V381.8H388.8V382.4H398.1V408.1H407.5V428.2H416.8V455.6H426.1V477.3H435.5V490.1H444.8V500.1H454.1V506.8H463.5V514.1H472.8V518Z" fill="#808080" stroke="#1a1a1a" stroke-width="1" stroke-linejoin="miter"/>
<rect x="303.6" y="374.7" width="196.3" height="143.3" fill="none" stroke="#808080" stroke-width="1.25"/>
<line x1="305" y1="518" x2="305" y2="520.1" stroke="#3a3a3a" stroke-width="0.8"/>
<text x="305" y="529.7" text-anchor="middle" class="t">−200</text>
<line x1="391.6" y1="518" x2="391.6" y2="520.1" stroke="#3a3a3a" stroke-width="0.8"/>
<text x="391.6" y="529.7" text-anchor="middle" class="t">0</text>
<line x1="478.2" y1="518" x2="478.2" y2="520.1" stroke="#3a3a3a" stroke-width="0.8"/>
<text x="478.2" y="529.7" text-anchor="middle" class="t">200</text>
<line x1="301.5" y1="518" x2="303.6" y2="518" stroke="#3a3a3a" stroke-width="0.8"/>
<text x="299.2" y="521.6" text-anchor="end" class="t">0</text>
<line x1="301.5" y1="491.9" x2="303.6" y2="491.9" stroke="#3a3a3a" stroke-width="0.8"/>
<text x="299.2" y="495.5" text-anchor="end" class="t">100</text>
<line x1="301.5" y1="465.8" x2="303.6" y2="465.8" stroke="#3a3a3a" stroke-width="0.8"/>
<text x="299.2" y="469.4" text-anchor="end" class="t">200</text>
<line x1="301.5" y1="439.7" x2="303.6" y2="439.7" stroke="#3a3a3a" stroke-width="0.8"/>
<text x="299.2" y="443.3" text-anchor="end" class="t">300</text>
<line x1="301.5" y1="413.6" x2="303.6" y2="413.6" stroke="#3a3a3a" stroke-width="0.8"/>
<text x="299.2" y="417.2" text-anchor="end" class="t">400</text>
<line x1="301.5" y1="387.5" x2="303.6" y2="387.5" stroke="#3a3a3a" stroke-width="0.8"/>
<text x="299.2" y="391.1" text-anchor="end" class="t">500</text>
<text x="401.3" y="541.8" text-anchor="middle" class="l">v<tspan dy="1.8" dx="0.4" font-size="7.8" font-style="italic">y</tspan><tspan dy="-1.8" dx="0.3"> (km/s)</tspan></text>
<text transform="translate(275,446.3) rotate(-90)" text-anchor="middle" class="l">Number of stars</text>
</g>
</svg>
</body></html>
